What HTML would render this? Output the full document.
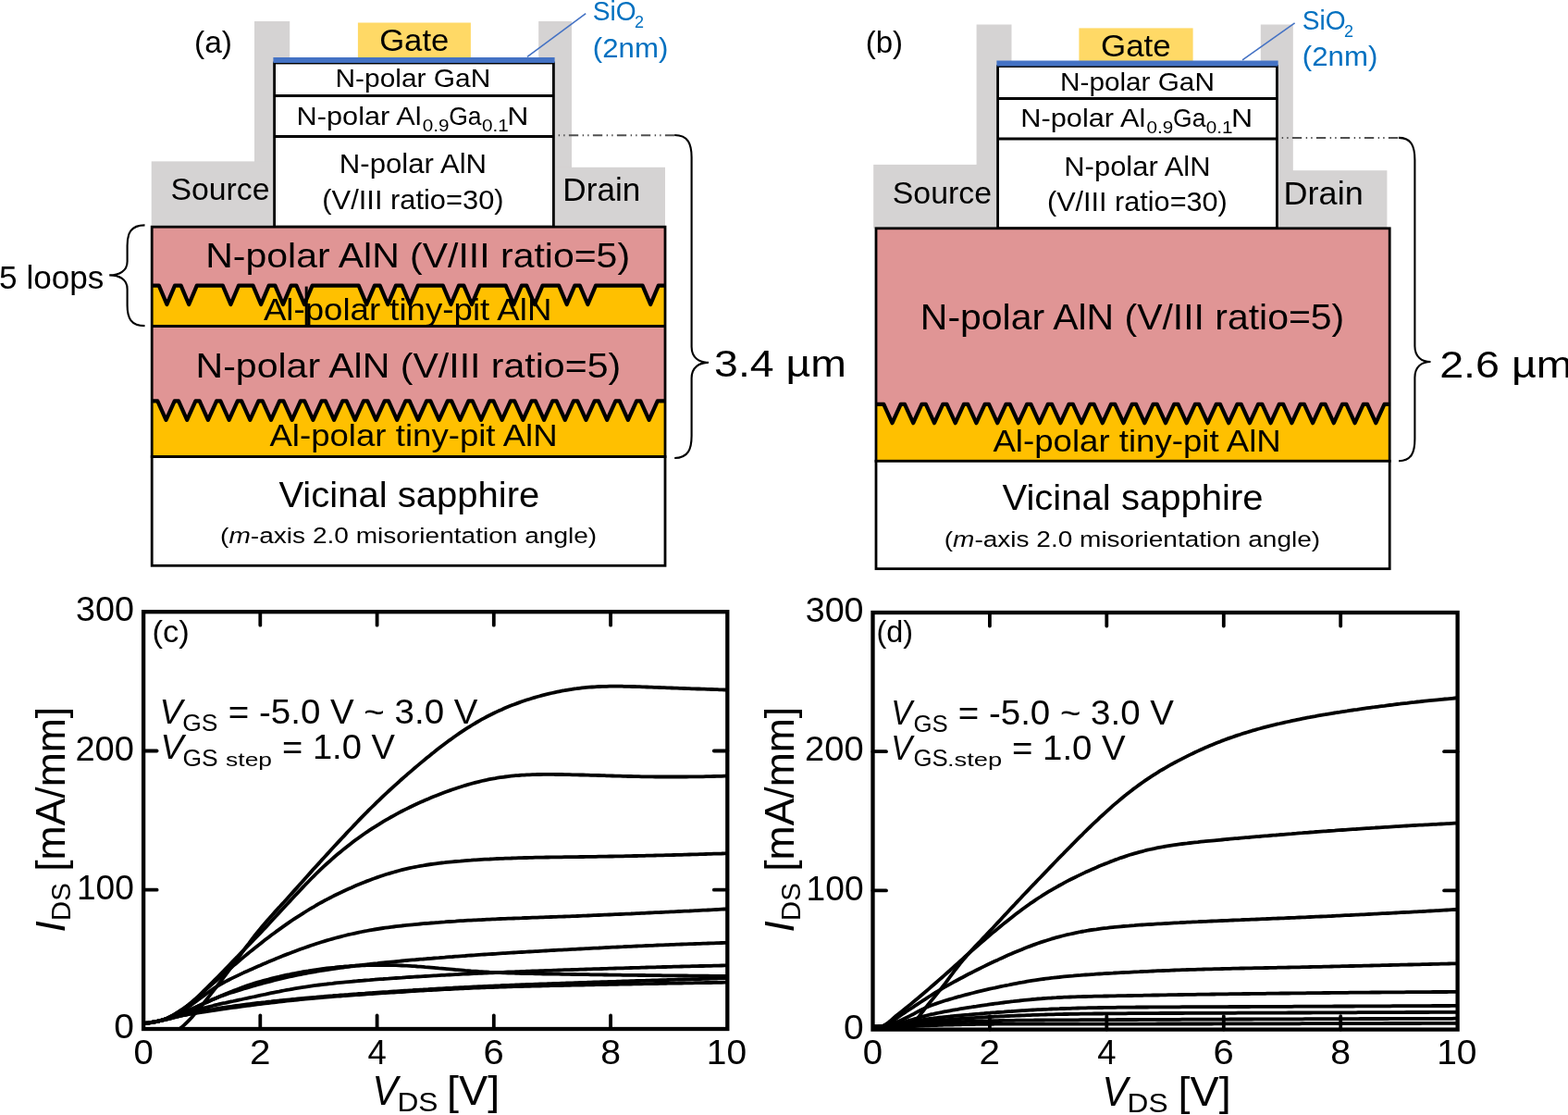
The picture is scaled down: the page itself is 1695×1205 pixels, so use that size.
<!DOCTYPE html>
<html><head><meta charset="utf-8"><title>Figure</title>
<style>html,body{margin:0;padding:0;background:#fff;} svg{display:block;}</style>
</head><body>
<svg width="1695" height="1205" viewBox="0 0 1695 1205">
<g font-family="'Liberation Sans', Arial, sans-serif" fill="#000">
<rect x="0" y="0" width="1695" height="1205" fill="#fff"/>
<rect x="275.0" y="23.0" width="38.2" height="222.2" fill="#D5D3D3"/>
<rect x="163.7" y="174.4" width="132.9" height="70.8" fill="#D5D3D3"/>
<rect x="582.2" y="23.0" width="35.8" height="222.2" fill="#D5D3D3"/>
<rect x="598.4" y="180.8" width="120.6" height="64.4" fill="#D5D3D3"/>
<rect x="386.9" y="24.5" width="122.0" height="38.5" fill="#FFD966"/>
<rect x="296.6" y="68.0" width="301.8" height="177.2" fill="#fff" stroke="#000" stroke-width="2.8"/>
<line x1="296.6" y1="103.4" x2="598.4" y2="103.4" stroke="#000" stroke-width="3" />
<line x1="296.6" y1="147.5" x2="598.4" y2="147.5" stroke="#000" stroke-width="3" />
<rect x="295.4" y="62.0" width="304.2" height="6.0" fill="#4472C4"/>
<line x1="570.0" y1="61.4" x2="633.2" y2="14.7" stroke="#4472C4" stroke-width="1.6" />
<line x1="603.4" y1="146.3" x2="729.2" y2="146.3" stroke="#505050" stroke-width="2" stroke-dasharray="10.3 4.5 1.4 4.1 1.4 4.3" stroke-dashoffset="14.5"/>
<rect x="164.2" y="245.2" width="554.8" height="107.4" fill="#E09595"/>
<polygon points="164.2,308.6 171.8,308.6 180.4,329.0 189.0,308.6 195.6,308.6 204.2,329.0 212.8,308.6 240.8,308.6 249.4,329.0 258.0,308.6 273.5,308.6 282.1,329.0 290.7,308.6 297.4,308.6 306.0,329.0 314.6,308.6 320.4,308.6 329.0,329.0 337.6,308.6 387.7,308.6 396.3,329.0 404.9,308.6 410.7,308.6 419.3,329.0 427.9,308.6 434.6,308.6 443.2,329.0 451.8,308.6 478.8,308.6 487.4,329.0 496.0,308.6 501.4,308.6 510.0,329.0 518.6,308.6 546.7,308.6 555.3,329.0 563.9,308.6 569.3,308.6 577.9,329.0 586.5,308.6 604.1,308.6 612.7,329.0 621.3,308.6 626.8,308.6 635.4,329.0 644.0,308.6 694.6,308.6 703.2,329.0 711.8,308.6 719.0,308.6 719.0,352.6 164.2,352.6" fill="#FFC000"/>
<polyline points="164.2,308.6 171.8,308.6 180.4,329.0 189.0,308.6 195.6,308.6 204.2,329.0 212.8,308.6 240.8,308.6 249.4,329.0 258.0,308.6 273.5,308.6 282.1,329.0 290.7,308.6 297.4,308.6 306.0,329.0 314.6,308.6 320.4,308.6 329.0,329.0 337.6,308.6 387.7,308.6 396.3,329.0 404.9,308.6 410.7,308.6 419.3,329.0 427.9,308.6 434.6,308.6 443.2,329.0 451.8,308.6 478.8,308.6 487.4,329.0 496.0,308.6 501.4,308.6 510.0,329.0 518.6,308.6 546.7,308.6 555.3,329.0 563.9,308.6 569.3,308.6 577.9,329.0 586.5,308.6 604.1,308.6 612.7,329.0 621.3,308.6 626.8,308.6 635.4,329.0 644.0,308.6 694.6,308.6 703.2,329.0 711.8,308.6 719.0,308.6" fill="none" stroke="#000" stroke-width="4.2" stroke-linejoin="round"/>
<line x1="331.2" y1="309.6" x2="331.2" y2="352.6" stroke="#000" stroke-width="3" />
<rect x="164.2" y="352.6" width="554.8" height="141.0" fill="#E09595"/>
<polygon points="164.2,433.3 170.3,433.3 179.5,453.8 188.7,433.3 193.0,433.3 202.2,453.8 211.4,433.3 215.7,433.3 224.9,453.8 234.1,433.3 238.4,433.3 247.6,453.8 256.8,433.3 261.1,433.3 270.3,453.8 279.5,433.3 283.8,433.3 293.0,453.8 302.2,433.3 306.5,433.3 315.7,453.8 324.9,433.3 329.2,433.3 338.4,453.8 347.6,433.3 351.9,433.3 361.1,453.8 370.3,433.3 374.6,433.3 383.8,453.8 393.0,433.3 397.3,433.3 406.5,453.8 415.7,433.3 420.0,433.3 429.2,453.8 438.4,433.3 442.7,433.3 451.9,453.8 461.1,433.3 465.4,433.3 474.6,453.8 483.8,433.3 488.1,433.3 497.3,453.8 506.5,433.3 510.8,433.3 520.0,453.8 529.2,433.3 533.5,433.3 542.7,453.8 551.9,433.3 556.2,433.3 565.4,453.8 574.6,433.3 578.9,433.3 588.1,453.8 597.3,433.3 601.6,433.3 610.8,453.8 620.0,433.3 624.3,433.3 633.5,453.8 642.7,433.3 647.0,433.3 656.2,453.8 665.4,433.3 669.7,433.3 678.9,453.8 688.1,433.3 692.4,433.3 701.6,453.8 710.8,433.3 719.0,433.3 719.0,493.6 164.2,493.6" fill="#FFC000"/>
<polyline points="164.2,433.3 170.3,433.3 179.5,453.8 188.7,433.3 193.0,433.3 202.2,453.8 211.4,433.3 215.7,433.3 224.9,453.8 234.1,433.3 238.4,433.3 247.6,453.8 256.8,433.3 261.1,433.3 270.3,453.8 279.5,433.3 283.8,433.3 293.0,453.8 302.2,433.3 306.5,433.3 315.7,453.8 324.9,433.3 329.2,433.3 338.4,453.8 347.6,433.3 351.9,433.3 361.1,453.8 370.3,433.3 374.6,433.3 383.8,453.8 393.0,433.3 397.3,433.3 406.5,453.8 415.7,433.3 420.0,433.3 429.2,453.8 438.4,433.3 442.7,433.3 451.9,453.8 461.1,433.3 465.4,433.3 474.6,453.8 483.8,433.3 488.1,433.3 497.3,453.8 506.5,433.3 510.8,433.3 520.0,453.8 529.2,433.3 533.5,433.3 542.7,453.8 551.9,433.3 556.2,433.3 565.4,453.8 574.6,433.3 578.9,433.3 588.1,453.8 597.3,433.3 601.6,433.3 610.8,453.8 620.0,433.3 624.3,433.3 633.5,453.8 642.7,433.3 647.0,433.3 656.2,453.8 665.4,433.3 669.7,433.3 678.9,453.8 688.1,433.3 692.4,433.3 701.6,453.8 710.8,433.3 719.0,433.3" fill="none" stroke="#000" stroke-width="4.2" stroke-linejoin="round"/>
<line x1="164.2" y1="352.6" x2="719.0" y2="352.6" stroke="#000" stroke-width="3" />
<rect x="164.2" y="245.2" width="554.8" height="248.4" fill="none" stroke="#000" stroke-width="2.8"/>
<rect x="164.2" y="493.6" width="554.8" height="117.7" fill="#fff" stroke="#000" stroke-width="2.8"/>
<rect x="1055.6" y="26.5" width="37.9" height="220.3" fill="#D5D3D3"/>
<rect x="944.2" y="177.9" width="134.4" height="68.9" fill="#D5D3D3"/>
<rect x="1362.8" y="26.5" width="35.0" height="220.3" fill="#D5D3D3"/>
<rect x="1380.4" y="184.2" width="119.0" height="62.6" fill="#D5D3D3"/>
<rect x="1166.4" y="30.4" width="123.2" height="35.6" fill="#FFD966"/>
<rect x="1078.6" y="71.5" width="301.8" height="175.3" fill="#fff" stroke="#000" stroke-width="2.8"/>
<line x1="1078.6" y1="106.6" x2="1380.4" y2="106.6" stroke="#000" stroke-width="3" />
<line x1="1078.6" y1="150.0" x2="1380.4" y2="150.0" stroke="#000" stroke-width="3" />
<rect x="1077.4" y="65.5" width="304.2" height="6.0" fill="#4472C4"/>
<line x1="1343.0" y1="64.9" x2="1399.6" y2="24.8" stroke="#4472C4" stroke-width="1.6" />
<line x1="1385.4" y1="148.9" x2="1512.0" y2="148.9" stroke="#505050" stroke-width="2" stroke-dasharray="10.3 4.5 1.4 4.1 1.4 4.3" stroke-dashoffset="14.5"/>
<rect x="947.0" y="246.8" width="555.2" height="251.5" fill="#E09595"/>
<polygon points="947.0,436.8 955.3,436.8 964.5,457.2 973.7,436.8 978.0,436.8 987.2,457.2 996.4,436.8 1000.8,436.8 1010.0,457.2 1019.2,436.8 1023.5,436.8 1032.7,457.2 1041.9,436.8 1046.2,436.8 1055.4,457.2 1064.6,436.8 1069.0,436.8 1078.2,457.2 1087.4,436.8 1091.7,436.8 1100.9,457.2 1110.1,436.8 1114.4,436.8 1123.6,457.2 1132.8,436.8 1137.1,436.8 1146.3,457.2 1155.5,436.8 1159.9,436.8 1169.1,457.2 1178.3,436.8 1182.6,436.8 1191.8,457.2 1201.0,436.8 1205.3,436.8 1214.5,457.2 1223.7,436.8 1228.1,436.8 1237.3,457.2 1246.5,436.8 1250.8,436.8 1260.0,457.2 1269.2,436.8 1273.5,436.8 1282.7,457.2 1291.9,436.8 1296.2,436.8 1305.5,457.2 1314.7,436.8 1319.0,436.8 1328.2,457.2 1337.4,436.8 1341.7,436.8 1350.9,457.2 1360.1,436.8 1364.4,436.8 1373.6,457.2 1382.8,436.8 1387.2,436.8 1396.4,457.2 1405.6,436.8 1409.9,436.8 1419.1,457.2 1428.3,436.8 1432.6,436.8 1441.8,457.2 1451.0,436.8 1455.4,436.8 1464.6,457.2 1473.8,436.8 1478.1,436.8 1487.3,457.2 1496.5,436.8 1502.2,436.8 1502.2,498.3 947.0,498.3" fill="#FFC000"/>
<polyline points="947.0,436.8 955.3,436.8 964.5,457.2 973.7,436.8 978.0,436.8 987.2,457.2 996.4,436.8 1000.8,436.8 1010.0,457.2 1019.2,436.8 1023.5,436.8 1032.7,457.2 1041.9,436.8 1046.2,436.8 1055.4,457.2 1064.6,436.8 1069.0,436.8 1078.2,457.2 1087.4,436.8 1091.7,436.8 1100.9,457.2 1110.1,436.8 1114.4,436.8 1123.6,457.2 1132.8,436.8 1137.1,436.8 1146.3,457.2 1155.5,436.8 1159.9,436.8 1169.1,457.2 1178.3,436.8 1182.6,436.8 1191.8,457.2 1201.0,436.8 1205.3,436.8 1214.5,457.2 1223.7,436.8 1228.1,436.8 1237.3,457.2 1246.5,436.8 1250.8,436.8 1260.0,457.2 1269.2,436.8 1273.5,436.8 1282.7,457.2 1291.9,436.8 1296.2,436.8 1305.5,457.2 1314.7,436.8 1319.0,436.8 1328.2,457.2 1337.4,436.8 1341.7,436.8 1350.9,457.2 1360.1,436.8 1364.4,436.8 1373.6,457.2 1382.8,436.8 1387.2,436.8 1396.4,457.2 1405.6,436.8 1409.9,436.8 1419.1,457.2 1428.3,436.8 1432.6,436.8 1441.8,457.2 1451.0,436.8 1455.4,436.8 1464.6,457.2 1473.8,436.8 1478.1,436.8 1487.3,457.2 1496.5,436.8 1502.2,436.8" fill="none" stroke="#000" stroke-width="4.2" stroke-linejoin="round"/>
<rect x="947.0" y="246.8" width="555.2" height="251.5" fill="none" stroke="#000" stroke-width="2.8"/>
<rect x="947.0" y="498.3" width="555.2" height="116.4" fill="#fff" stroke="#000" stroke-width="2.8"/>
<path d="M 156.5 243.4 C 141.38 243.4, 137.6 252.20000000000002, 137.6 265.4 L 137.6 282.4 C 137.6 292.9, 128.87 297.4, 118.2 297.4 C 128.87 297.4, 137.6 301.9, 137.6 312.4 L 137.6 330.1 C 137.6 343.3, 141.38 352.1, 156.5 352.1" fill="none" stroke="#000" stroke-width="2.1"/>
<path d="M 729.2 146 C 743.9200000000001 146, 747.6 155.6, 747.6 170 L 747.6 374.8 C 747.6 386.7, 755.88 391.8, 766 391.8 C 755.88 391.8, 747.6 396.90000000000003, 747.6 408.8 L 747.6 471 C 747.6 485.4, 743.9200000000001 495, 729.2 495" fill="none" stroke="#000" stroke-width="2.1"/>
<path d="M 1512 148.9 C 1525.92 148.9, 1529.4 158.5, 1529.4 172.9 L 1529.4 374 C 1529.4 385.9, 1537.095 391, 1546.5 391 C 1537.095 391, 1529.4 396.1, 1529.4 408 L 1529.4 474.2 C 1529.4 488.59999999999997, 1525.92 498.2, 1512 498.2" fill="none" stroke="#000" stroke-width="2.1"/>
<text x="209.99" y="57.30" font-size="33.5" textLength="40.95" lengthAdjust="spacingAndGlyphs">(a)</text>
<text x="935.72" y="57.30" font-size="33.5" textLength="40.40" lengthAdjust="spacingAndGlyphs">(b)</text>
<text x="410.17" y="55.40" font-size="33.8" textLength="75.16" lengthAdjust="spacingAndGlyphs">Gate</text>
<text x="1190.05" y="60.60" font-size="33.8" textLength="75.68" lengthAdjust="spacingAndGlyphs">Gate</text>
<text x="362.51" y="94.40" font-size="27.5" textLength="167.80" lengthAdjust="spacingAndGlyphs">N-polar GaN</text>
<text x="1146.02" y="98.20" font-size="27.5" textLength="166.87" lengthAdjust="spacingAndGlyphs">N-polar GaN</text>
<text x="320.57" y="135.10" font-size="28" textLength="134.91" lengthAdjust="spacingAndGlyphs">N-polar Al</text>
<text x="456.78" y="141.80" font-size="18.5" textLength="28.78" lengthAdjust="spacingAndGlyphs">0.9</text>
<text x="485.28" y="135.10" font-size="28" textLength="35.32" lengthAdjust="spacingAndGlyphs">Ga</text>
<text x="520.98" y="141.80" font-size="18.5" textLength="28.78" lengthAdjust="spacingAndGlyphs">0.1</text>
<text x="548.24" y="135.10" font-size="28" textLength="23.13" lengthAdjust="spacingAndGlyphs">N</text>
<text x="1103.37" y="137.30" font-size="28" textLength="134.91" lengthAdjust="spacingAndGlyphs">N-polar Al</text>
<text x="1239.58" y="144.00" font-size="18.5" textLength="28.78" lengthAdjust="spacingAndGlyphs">0.9</text>
<text x="1268.08" y="137.30" font-size="28" textLength="35.32" lengthAdjust="spacingAndGlyphs">Ga</text>
<text x="1303.78" y="144.00" font-size="18.5" textLength="28.78" lengthAdjust="spacingAndGlyphs">0.1</text>
<text x="1331.04" y="137.30" font-size="28" textLength="23.13" lengthAdjust="spacingAndGlyphs">N</text>
<text x="366.83" y="186.90" font-size="28.9" textLength="159.24" lengthAdjust="spacingAndGlyphs">N-polar AlN</text>
<text x="1150.25" y="189.60" font-size="28.9" textLength="158.31" lengthAdjust="spacingAndGlyphs">N-polar AlN</text>
<text x="348.35" y="226.40" font-size="29" textLength="196.24" lengthAdjust="spacingAndGlyphs">(V/III ratio=30)</text>
<text x="1131.96" y="227.80" font-size="29" textLength="194.81" lengthAdjust="spacingAndGlyphs">(V/III ratio=30)</text>
<text x="184.38" y="215.90" font-size="34" textLength="107.22" lengthAdjust="spacingAndGlyphs">Source</text>
<text x="964.78" y="219.50" font-size="34" textLength="107.22" lengthAdjust="spacingAndGlyphs">Source</text>
<text x="608.39" y="217.10" font-size="34.3" textLength="84.07" lengthAdjust="spacingAndGlyphs">Drain</text>
<text x="1387.62" y="220.50" font-size="34.3" textLength="86.08" lengthAdjust="spacingAndGlyphs">Drain</text>
<text x="222.24" y="288.70" font-size="37.8" textLength="458.83" lengthAdjust="spacingAndGlyphs">N-polar AlN (V/III ratio=5)</text>
<text x="211.53" y="407.50" font-size="37.8" textLength="459.64" lengthAdjust="spacingAndGlyphs">N-polar AlN (V/III ratio=5)</text>
<text x="284.90" y="346.30" font-size="34" textLength="311.51" lengthAdjust="spacingAndGlyphs">Al-polar tiny-pit AlN</text>
<text x="291.40" y="481.70" font-size="33.5" textLength="311.31" lengthAdjust="spacingAndGlyphs">Al-polar tiny-pit AlN</text>
<text x="994.84" y="356.00" font-size="38.3" textLength="458.42" lengthAdjust="spacingAndGlyphs">N-polar AlN (V/III ratio=5)</text>
<text x="1073.40" y="488.10" font-size="33.5" textLength="311.41" lengthAdjust="spacingAndGlyphs">Al-polar tiny-pit AlN</text>
<text x="301.40" y="547.90" font-size="39" textLength="281.85" lengthAdjust="spacingAndGlyphs">Vicinal sapphire</text>
<text x="1083.40" y="551.20" font-size="39" textLength="282.25" lengthAdjust="spacingAndGlyphs">Vicinal sapphire</text>
<text x="238.12" y="587.20" font-size="24.3" textLength="407.11" lengthAdjust="spacingAndGlyphs">(<tspan font-style="italic">m</tspan>-axis 2.0 misorientation angle)</text>
<text x="1020.72" y="591.20" font-size="24.3" textLength="406.41" lengthAdjust="spacingAndGlyphs">(<tspan font-style="italic">m</tspan>-axis 2.0 misorientation angle)</text>
<text x="-0.90" y="311.60" font-size="34.4" textLength="113.23" lengthAdjust="spacingAndGlyphs">5 loops</text>
<text x="772.08" y="406.50" font-size="40.8" textLength="142.85" lengthAdjust="spacingAndGlyphs">3.4 µm</text>
<text x="1556.17" y="408.00" font-size="40.8" textLength="143.57" lengthAdjust="spacingAndGlyphs">2.6 µm</text>
<text x="640.73" y="22.40" font-size="28.8" textLength="46.91" lengthAdjust="spacingAndGlyphs" fill="#0070C0">SiO</text>
<text x="686.00" y="30.10" font-size="19" textLength="10.03" lengthAdjust="spacingAndGlyphs" fill="#0070C0">2</text>
<text x="640.83" y="62.00" font-size="28.8" textLength="81.48" lengthAdjust="spacingAndGlyphs" fill="#0070C0">(2nm)</text>
<text x="1407.73" y="31.90" font-size="28.8" textLength="46.91" lengthAdjust="spacingAndGlyphs" fill="#0070C0">SiO</text>
<text x="1453.00" y="39.60" font-size="19" textLength="10.03" lengthAdjust="spacingAndGlyphs" fill="#0070C0">2</text>
<text x="1407.83" y="71.40" font-size="28.8" textLength="81.48" lengthAdjust="spacingAndGlyphs" fill="#0070C0">(2nm)</text>
<defs><clipPath id="clipc"><rect x="155.1" y="661.2" width="631.2" height="450.8"/></clipPath></defs>
<g clip-path="url(#clipc)">
<polyline points="194.2,1112.0 196.2,1110.3 199.2,1107.6 202.1,1104.8 204.1,1102.8 207.1,1099.7 210.0,1096.3 213.0,1092.8 215.0,1090.4 218.0,1086.8 220.9,1083.1 223.9,1079.4 225.9,1076.9 228.8,1073.1 231.8,1069.3 234.8,1065.5 236.7,1063.0 239.7,1059.1 242.7,1055.2 244.6,1052.6 247.6,1048.7 250.6,1044.7 253.5,1040.7 255.5,1038.0 258.5,1033.9 261.4,1029.8 264.4,1025.7 266.4,1023.0 269.4,1019.1 272.3,1015.1 275.3,1011.3 277.3,1008.8 280.2,1005.1 283.2,1001.5 285.2,999.2 288.1,995.8 291.1,992.4 294.1,989.1 296.0,986.9 299.0,983.6 302.0,980.4 304.9,977.1 306.9,975.0 309.9,971.7 312.8,968.4 315.8,965.1 317.8,962.9 320.8,959.6 323.7,956.3 326.7,952.9 328.7,950.7 331.6,947.4 334.6,944.1 336.6,941.9 339.5,938.6 342.5,935.4 345.5,932.1 347.4,929.9 350.4,926.7 353.4,923.4 356.3,920.2 358.3,918.0 361.3,914.8 364.2,911.6 367.2,908.4 369.2,906.2 372.2,903.1 375.1,899.9 377.1,897.8 380.1,894.7 383.0,891.6 386.0,888.5 388.0,886.4 390.9,883.4 393.9,880.4 396.9,877.4 398.8,875.4 401.8,872.5 404.8,869.6 407.7,866.7 409.7,864.8 412.7,861.9 415.6,859.1 418.6,856.4 420.6,854.5 423.5,851.8 426.5,849.1 428.5,847.3 431.5,844.7 434.4,842.0 437.4,839.4 439.4,837.7 442.3,835.1 445.3,832.6 448.3,830.0 450.2,828.4 453.2,825.9 456.2,823.4 459.1,821.0 461.1,819.3 464.1,816.9 467.0,814.5 469.0,813.0 472.0,810.6 474.9,808.3 477.9,806.0 479.9,804.5 482.9,802.3 485.8,800.1 488.8,798.0 490.8,796.5 493.7,794.5 496.7,792.4 499.7,790.4 501.6,789.1 504.6,787.2 507.6,785.3 510.5,783.5 512.5,782.3 515.5,780.5 518.4,778.8 520.4,777.7 523.4,776.1 526.3,774.5 529.3,773.0 531.3,772.0 534.3,770.5 537.2,769.1 540.2,767.7 542.2,766.9 545.1,765.6 548.1,764.3 551.1,763.1 553.0,762.3 556.0,761.2 559.0,760.1 560.9,759.4 563.9,758.3 566.9,757.3 569.8,756.3 571.8,755.7 574.8,754.8 577.7,753.9 580.7,753.0 582.7,752.5 585.7,751.7 588.6,750.9 591.6,750.2 593.6,749.7 596.5,749.0 599.5,748.3 602.5,747.7 604.4,747.3 607.4,746.7 610.4,746.2 612.3,745.8 615.3,745.3 618.3,744.9 621.2,744.4 623.2,744.2 626.2,743.8 629.1,743.4 632.1,743.1 634.1,742.9 637.0,742.7 640.0,742.5 643.0,742.3 645.0,742.2 647.9,742.0 650.9,741.9 652.9,741.8 655.8,741.8 658.8,741.7 661.8,741.7 663.7,741.7 666.7,741.7 669.7,741.7 672.6,741.7 674.6,741.8 677.6,741.8 680.5,741.9 683.5,742.0 685.5,742.0 688.4,742.1 691.4,742.2 694.4,742.3 696.4,742.4 699.3,742.5 702.3,742.6 704.3,742.7 707.2,742.8 710.2,742.9 713.2,743.0 715.1,743.1 718.1,743.2 721.1,743.3 724.0,743.4 726.0,743.5 729.0,743.6 731.9,743.7 734.9,743.8 736.9,743.9 739.8,744.0 742.8,744.1 744.8,744.1 747.8,744.3 750.7,744.4 753.7,744.5 755.7,744.5 758.6,744.6 761.6,744.7 764.6,744.8 766.5,744.9 769.5,745.0 772.5,745.1 775.4,745.2 777.4,745.3 780.4,745.4 783.3,745.5 786.3,745.6" fill="none" stroke="#000" stroke-width="3.8" stroke-linejoin="round" stroke-linecap="round"/>
<polyline points="155.1,1106.0 157.2,1105.9 160.4,1105.6 163.5,1105.2 165.6,1104.8 168.8,1104.1 172.0,1103.3 175.1,1102.4 177.2,1101.7 180.4,1100.5 183.6,1099.0 186.7,1097.3 188.8,1096.1 192.0,1094.2 195.1,1092.1 198.3,1090.0 200.4,1088.5 203.6,1086.1 206.7,1083.6 208.8,1081.7 212.0,1078.8 215.2,1075.8 218.3,1072.8 220.4,1070.7 223.6,1067.6 226.8,1064.4 229.9,1061.3 232.0,1059.2 235.2,1056.0 238.3,1052.8 241.5,1049.6 243.6,1047.4 246.8,1044.1 249.9,1040.8 252.0,1038.6 255.2,1035.4 258.4,1032.1 261.5,1028.8 263.6,1026.7 266.8,1023.4 270.0,1020.2 273.1,1016.9 275.2,1014.7 278.4,1011.4 281.6,1008.1 284.7,1004.8 286.8,1002.6 290.0,999.2 293.1,995.8 296.3,992.3 298.4,990.0 301.6,986.6 304.7,983.2 306.8,980.9 310.0,977.5 313.2,974.1 316.3,970.7 318.4,968.4 321.6,965.1 324.8,961.7 327.9,958.4 330.0,956.2 333.2,953.0 336.3,949.8 339.5,946.6 341.6,944.5 344.8,941.4 347.9,938.4 350.0,936.4 353.2,933.5 356.4,930.7 359.5,927.9 361.6,926.0 364.8,923.3 368.0,920.7 371.1,918.1 373.2,916.4 376.4,913.9 379.6,911.5 382.7,909.1 384.8,907.5 388.0,905.2 391.1,903.0 394.3,900.8 396.4,899.3 399.6,897.2 402.7,895.1 404.8,893.8 408.0,891.8 411.2,889.8 414.3,887.9 416.4,886.7 419.6,884.8 422.8,883.0 425.9,881.3 428.0,880.1 431.2,878.4 434.3,876.8 437.5,875.1 439.6,874.1 442.8,872.5 445.9,871.0 448.0,870.0 451.2,868.5 454.4,867.1 457.5,865.7 459.6,864.8 462.8,863.4 466.0,862.1 469.1,860.8 471.2,860.0 474.4,858.7 477.5,857.5 480.7,856.3 482.8,855.5 486.0,854.4 489.1,853.3 492.3,852.2 494.4,851.5 497.6,850.5 500.7,849.5 502.8,848.8 506.0,847.9 509.2,847.0 512.3,846.2 514.4,845.6 517.6,844.8 520.8,844.0 523.9,843.3 526.0,842.9 529.2,842.2 532.3,841.6 535.5,841.1 537.6,840.7 540.8,840.2 543.9,839.8 546.0,839.5 549.2,839.1 552.4,838.7 555.5,838.4 557.6,838.2 560.8,838.0 564.0,837.7 567.1,837.6 569.2,837.4 572.4,837.3 575.5,837.2 578.7,837.1 580.8,837.0 584.0,837.0 587.1,836.9 590.3,836.9 592.4,836.9 595.6,836.9 598.7,836.9 600.8,837.0 604.0,837.0 607.2,837.0 610.3,837.1 612.4,837.1 615.6,837.2 618.8,837.3 621.9,837.3 624.0,837.4 627.2,837.5 630.3,837.5 633.5,837.6 635.6,837.7 638.8,837.8 641.9,837.9 644.0,837.9 647.2,838.0 650.4,838.1 653.5,838.2 655.6,838.3 658.8,838.4 662.0,838.5 665.1,838.6 667.2,838.7 670.4,838.7 673.5,838.8 676.7,838.9 678.8,839.0 682.0,839.0 685.1,839.1 688.3,839.2 690.4,839.2 693.6,839.3 696.7,839.3 698.8,839.4 702.0,839.4 705.2,839.4 708.3,839.5 710.4,839.5 713.6,839.5 716.8,839.5 719.9,839.5 722.0,839.5 725.2,839.5 728.3,839.5 731.5,839.5 733.6,839.5 736.8,839.5 739.9,839.5 742.0,839.5 745.2,839.4 748.4,839.4 751.5,839.4 753.6,839.3 756.8,839.3 760.0,839.3 763.1,839.2 765.2,839.2 768.4,839.1 771.5,839.0 774.7,838.9 776.8,838.9 780.0,838.8 783.1,838.6 786.3,838.5" fill="none" stroke="#000" stroke-width="3.8" stroke-linejoin="round" stroke-linecap="round"/>
<polyline points="155.1,1106.0 157.2,1105.9 160.4,1105.6 163.5,1105.2 165.6,1104.8 168.8,1104.1 172.0,1103.3 175.1,1102.4 177.2,1101.7 180.4,1100.5 183.6,1099.0 186.7,1097.3 188.8,1096.1 192.0,1094.1 195.1,1092.1 198.3,1090.0 200.4,1088.5 203.6,1086.2 206.7,1083.7 208.8,1081.9 212.0,1079.2 215.2,1076.3 218.3,1073.5 220.4,1071.6 223.6,1068.7 226.8,1065.9 229.9,1063.1 232.0,1061.3 235.2,1058.5 238.3,1055.8 241.5,1053.0 243.6,1051.2 246.8,1048.5 249.9,1045.7 252.0,1043.9 255.2,1041.2 258.4,1038.5 261.5,1035.9 263.6,1034.1 266.8,1031.5 270.0,1028.9 273.1,1026.4 275.2,1024.7 278.4,1022.2 281.6,1019.7 284.7,1017.2 286.8,1015.6 290.0,1013.2 293.1,1010.8 296.3,1008.5 298.4,1006.9 301.6,1004.6 304.7,1002.4 306.8,1000.9 310.0,998.6 313.2,996.4 316.3,994.3 318.4,992.9 321.6,990.8 324.8,988.8 327.9,986.8 330.0,985.5 333.2,983.5 336.3,981.6 339.5,979.8 341.6,978.5 344.8,976.7 347.9,975.0 350.0,973.8 353.2,972.1 356.4,970.5 359.5,968.9 361.6,967.8 364.8,966.2 368.0,964.7 371.1,963.2 373.2,962.2 376.4,960.8 379.6,959.4 382.7,958.0 384.8,957.1 388.0,955.8 391.1,954.5 394.3,953.2 396.4,952.4 399.6,951.2 402.7,950.0 404.8,949.3 408.0,948.1 411.2,947.0 414.3,946.0 416.4,945.3 419.6,944.3 422.8,943.4 425.9,942.5 428.0,941.9 431.2,941.0 434.3,940.2 437.5,939.4 439.6,938.9 442.8,938.2 445.9,937.5 448.0,937.1 451.2,936.5 454.4,935.9 457.5,935.4 459.6,935.0 462.8,934.5 466.0,934.0 469.1,933.6 471.2,933.3 474.4,932.9 477.5,932.5 480.7,932.2 482.8,931.9 486.0,931.6 489.1,931.3 492.3,931.0 494.4,930.8 497.6,930.6 500.7,930.3 502.8,930.1 506.0,929.9 509.2,929.7 512.3,929.4 514.4,929.3 517.6,929.1 520.8,928.9 523.9,928.7 526.0,928.6 529.2,928.5 532.3,928.3 535.5,928.1 537.6,928.0 540.8,927.9 543.9,927.8 546.0,927.7 549.2,927.6 552.4,927.5 555.5,927.3 557.6,927.3 560.8,927.2 564.0,927.1 567.1,927.0 569.2,927.0 572.4,926.9 575.5,926.8 578.7,926.7 580.8,926.7 584.0,926.6 587.1,926.6 590.3,926.5 592.4,926.5 595.6,926.4 598.7,926.4 600.8,926.4 604.0,926.3 607.2,926.3 610.3,926.2 612.4,926.2 615.6,926.2 618.8,926.1 621.9,926.1 624.0,926.1 627.2,926.0 630.3,926.0 633.5,925.9 635.6,925.9 638.8,925.9 641.9,925.8 644.0,925.8 647.2,925.7 650.4,925.7 653.5,925.6 655.6,925.6 658.8,925.5 662.0,925.5 665.1,925.4 667.2,925.4 670.4,925.3 673.5,925.3 676.7,925.2 678.8,925.2 682.0,925.1 685.1,925.0 688.3,925.0 690.4,924.9 693.6,924.8 696.7,924.8 698.8,924.7 702.0,924.7 705.2,924.6 708.3,924.5 710.4,924.4 713.6,924.4 716.8,924.3 719.9,924.2 722.0,924.2 725.2,924.1 728.3,924.0 731.5,923.9 733.6,923.8 736.8,923.8 739.9,923.7 742.0,923.6 745.2,923.5 748.4,923.4 751.5,923.3 753.6,923.3 756.8,923.2 760.0,923.1 763.1,923.0 765.2,922.9 768.4,922.8 771.5,922.7 774.7,922.6 776.8,922.6 780.0,922.5 783.1,922.3 786.3,922.2" fill="none" stroke="#000" stroke-width="3.8" stroke-linejoin="round" stroke-linecap="round"/>
<polyline points="155.1,1106.0 157.2,1105.9 160.4,1105.6 163.5,1105.1 165.6,1104.7 168.8,1104.1 172.0,1103.3 175.1,1102.5 177.2,1101.8 180.4,1100.7 183.6,1099.3 186.7,1097.8 188.8,1096.7 192.0,1095.0 195.1,1093.3 198.3,1091.4 200.4,1090.2 203.6,1088.2 206.7,1086.1 208.8,1084.5 212.0,1082.2 215.2,1079.8 218.3,1077.5 220.4,1075.9 223.6,1073.5 226.8,1071.3 229.9,1069.1 232.0,1067.7 235.2,1065.7 238.3,1063.8 241.5,1062.0 243.6,1060.9 246.8,1059.2 249.9,1057.6 252.0,1056.6 255.2,1055.1 258.4,1053.6 261.5,1052.1 263.6,1051.1 266.8,1049.7 270.0,1048.3 273.1,1046.9 275.2,1045.9 278.4,1044.5 281.6,1043.2 284.7,1041.8 286.8,1040.9 290.0,1039.6 293.1,1038.2 296.3,1036.9 298.4,1036.0 301.6,1034.8 304.7,1033.5 306.8,1032.6 310.0,1031.4 313.2,1030.2 316.3,1029.0 318.4,1028.2 321.6,1027.0 324.8,1025.8 327.9,1024.7 330.0,1024.0 333.2,1022.9 336.3,1021.8 339.5,1020.7 341.6,1020.0 344.8,1019.0 347.9,1018.0 350.0,1017.4 353.2,1016.4 356.4,1015.5 359.5,1014.6 361.6,1014.0 364.8,1013.2 368.0,1012.3 371.1,1011.5 373.2,1011.0 376.4,1010.2 379.6,1009.5 382.7,1008.8 384.8,1008.3 388.0,1007.6 391.1,1007.0 394.3,1006.4 396.4,1006.0 399.6,1005.4 402.7,1004.8 404.8,1004.5 408.0,1004.0 411.2,1003.5 414.3,1003.0 416.4,1002.7 419.6,1002.3 422.8,1001.9 425.9,1001.5 428.0,1001.2 431.2,1000.8 434.3,1000.5 437.5,1000.1 439.6,999.9 442.8,999.6 445.9,999.3 448.0,999.1 451.2,998.8 454.4,998.5 457.5,998.2 459.6,998.0 462.8,997.8 466.0,997.5 469.1,997.3 471.2,997.1 474.4,996.9 477.5,996.6 480.7,996.4 482.8,996.2 486.0,996.0 489.1,995.8 492.3,995.6 494.4,995.4 497.6,995.2 500.7,995.1 502.8,994.9 506.0,994.7 509.2,994.6 512.3,994.4 514.4,994.3 517.6,994.1 520.8,994.0 523.9,993.8 526.0,993.7 529.2,993.6 532.3,993.4 535.5,993.3 537.6,993.2 540.8,993.0 543.9,992.9 546.0,992.8 549.2,992.7 552.4,992.6 555.5,992.5 557.6,992.4 560.8,992.3 564.0,992.2 567.1,992.0 569.2,992.0 572.4,991.9 575.5,991.7 578.7,991.6 580.8,991.6 584.0,991.4 587.1,991.3 590.3,991.2 592.4,991.1 595.6,991.0 598.7,990.9 600.8,990.8 604.0,990.7 607.2,990.6 610.3,990.5 612.4,990.4 615.6,990.3 618.8,990.2 621.9,990.1 624.0,990.0 627.2,989.8 630.3,989.7 633.5,989.6 635.6,989.5 638.8,989.4 641.9,989.2 644.0,989.2 647.2,989.0 650.4,988.9 653.5,988.7 655.6,988.7 658.8,988.5 662.0,988.4 665.1,988.2 667.2,988.1 670.4,988.0 673.5,987.9 676.7,987.7 678.8,987.6 682.0,987.5 685.1,987.3 688.3,987.2 690.4,987.1 693.6,986.9 696.7,986.8 698.8,986.7 702.0,986.5 705.2,986.4 708.3,986.2 710.4,986.1 713.6,986.0 716.8,985.8 719.9,985.7 722.0,985.6 725.2,985.4 728.3,985.3 731.5,985.1 733.6,985.0 736.8,984.9 739.9,984.7 742.0,984.6 745.2,984.5 748.4,984.3 751.5,984.2 753.6,984.1 756.8,983.9 760.0,983.7 763.1,983.6 765.2,983.5 768.4,983.3 771.5,983.1 774.7,983.0 776.8,982.9 780.0,982.7 783.1,982.5 786.3,982.3" fill="none" stroke="#000" stroke-width="3.8" stroke-linejoin="round" stroke-linecap="round"/>
<polyline points="155.1,1106.0 157.2,1105.8 160.4,1105.4 163.5,1104.9 165.6,1104.6 168.8,1104.0 172.0,1103.3 175.1,1102.6 177.2,1102.0 180.4,1101.1 183.6,1100.1 186.7,1098.9 188.8,1098.1 192.0,1096.9 195.1,1095.6 198.3,1094.3 200.4,1093.5 203.6,1092.1 206.7,1090.7 208.8,1089.8 212.0,1088.3 215.2,1086.8 218.3,1085.3 220.4,1084.4 223.6,1082.9 226.8,1081.5 229.9,1080.1 232.0,1079.3 235.2,1078.0 238.3,1076.8 241.5,1075.6 243.6,1074.9 246.8,1073.8 249.9,1072.8 252.0,1072.1 255.2,1071.1 258.4,1070.1 261.5,1069.1 263.6,1068.5 266.8,1067.6 270.0,1066.6 273.1,1065.7 275.2,1065.1 278.4,1064.2 281.6,1063.4 284.7,1062.5 286.8,1061.9 290.0,1061.1 293.1,1060.3 296.3,1059.5 298.4,1059.0 301.6,1058.2 304.7,1057.5 306.8,1057.0 310.0,1056.2 313.2,1055.5 316.3,1054.8 318.4,1054.4 321.6,1053.7 324.8,1053.1 327.9,1052.5 330.0,1052.1 333.2,1051.5 336.3,1050.9 339.5,1050.3 341.6,1050.0 344.8,1049.4 347.9,1048.9 350.0,1048.6 353.2,1048.1 356.4,1047.6 359.5,1047.1 361.6,1046.8 364.8,1046.4 368.0,1045.9 371.1,1045.5 373.2,1045.2 376.4,1044.8 379.6,1044.4 382.7,1044.0 384.8,1043.7 388.0,1043.3 391.1,1043.0 394.3,1042.6 396.4,1042.3 399.6,1042.0 402.7,1041.6 404.8,1041.4 408.0,1041.1 411.2,1040.7 414.3,1040.4 416.4,1040.2 419.6,1039.9 422.8,1039.6 425.9,1039.3 428.0,1039.1 431.2,1038.8 434.3,1038.5 437.5,1038.2 439.6,1038.0 442.8,1037.7 445.9,1037.4 448.0,1037.3 451.2,1037.0 454.4,1036.7 457.5,1036.5 459.6,1036.3 462.8,1036.0 466.0,1035.8 469.1,1035.5 471.2,1035.3 474.4,1035.1 477.5,1034.8 480.7,1034.6 482.8,1034.4 486.0,1034.2 489.1,1034.0 492.3,1033.7 494.4,1033.6 497.6,1033.3 500.7,1033.1 502.8,1033.0 506.0,1032.7 509.2,1032.5 512.3,1032.3 514.4,1032.1 517.6,1031.9 520.8,1031.7 523.9,1031.5 526.0,1031.4 529.2,1031.2 532.3,1031.0 535.5,1030.8 537.6,1030.6 540.8,1030.4 543.9,1030.2 546.0,1030.1 549.2,1029.9 552.4,1029.7 555.5,1029.5 557.6,1029.4 560.8,1029.2 564.0,1029.0 567.1,1028.8 569.2,1028.7 572.4,1028.5 575.5,1028.4 578.7,1028.2 580.8,1028.1 584.0,1027.9 587.1,1027.7 590.3,1027.5 592.4,1027.4 595.6,1027.2 598.7,1027.0 600.8,1026.9 604.0,1026.7 607.2,1026.6 610.3,1026.4 612.4,1026.3 615.6,1026.1 618.8,1025.9 621.9,1025.8 624.0,1025.7 627.2,1025.5 630.3,1025.3 633.5,1025.2 635.6,1025.1 638.8,1024.9 641.9,1024.7 644.0,1024.6 647.2,1024.5 650.4,1024.3 653.5,1024.1 655.6,1024.0 658.8,1023.9 662.0,1023.7 665.1,1023.6 667.2,1023.5 670.4,1023.3 673.5,1023.2 676.7,1023.0 678.8,1022.9 682.0,1022.8 685.1,1022.6 688.3,1022.5 690.4,1022.4 693.6,1022.3 696.7,1022.1 698.8,1022.0 702.0,1021.9 705.2,1021.8 708.3,1021.6 710.4,1021.5 713.6,1021.4 716.8,1021.3 719.9,1021.1 722.0,1021.1 725.2,1020.9 728.3,1020.8 731.5,1020.7 733.6,1020.6 736.8,1020.5 739.9,1020.4 742.0,1020.3 745.2,1020.2 748.4,1020.1 751.5,1020.0 753.6,1019.9 756.8,1019.8 760.0,1019.7 763.1,1019.6 765.2,1019.5 768.4,1019.4 771.5,1019.3 774.7,1019.2 776.8,1019.1 780.0,1019.0 783.1,1018.9 786.3,1018.8" fill="none" stroke="#000" stroke-width="3.8" stroke-linejoin="round" stroke-linecap="round"/>
<polyline points="155.1,1106.0 157.2,1105.8 160.4,1105.4 163.5,1104.9 165.6,1104.6 168.8,1104.0 172.0,1103.3 175.1,1102.6 177.2,1102.0 180.4,1101.1 183.6,1100.1 186.7,1098.9 188.8,1098.1 192.0,1096.9 195.1,1095.6 198.3,1094.4 200.4,1093.5 203.6,1092.2 206.7,1090.8 208.8,1089.9 212.0,1088.5 215.2,1087.1 218.3,1085.6 220.4,1084.6 223.6,1083.2 226.8,1081.7 229.9,1080.3 232.0,1079.4 235.2,1078.0 238.3,1076.6 241.5,1075.2 243.6,1074.4 246.8,1073.1 249.9,1071.8 252.0,1070.9 255.2,1069.7 258.4,1068.5 261.5,1067.3 263.6,1066.5 266.8,1065.4 270.0,1064.3 273.1,1063.3 275.2,1062.6 278.4,1061.7 281.6,1060.8 284.7,1059.9 286.8,1059.3 290.0,1058.5 293.1,1057.7 296.3,1056.9 298.4,1056.4 301.6,1055.7 304.7,1054.9 306.8,1054.4 310.0,1053.7 313.2,1053.1 316.3,1052.4 318.4,1052.0 321.6,1051.4 324.8,1050.8 327.9,1050.2 330.0,1049.9 333.2,1049.4 336.3,1048.8 339.5,1048.4 341.6,1048.1 344.8,1047.6 347.9,1047.2 350.0,1046.9 353.2,1046.5 356.4,1046.1 359.5,1045.8 361.6,1045.6 364.8,1045.2 368.0,1044.9 371.1,1044.7 373.2,1044.5 376.4,1044.3 379.6,1044.0 382.7,1043.8 384.8,1043.7 388.0,1043.6 391.1,1043.4 394.3,1043.3 396.4,1043.2 399.6,1043.1 402.7,1043.1 404.8,1043.0 408.0,1043.0 411.2,1043.0 414.3,1043.0 416.4,1043.0 419.6,1043.0 422.8,1043.1 425.9,1043.2 428.0,1043.2 431.2,1043.4 434.3,1043.5 437.5,1043.6 439.6,1043.7 442.8,1043.9 445.9,1044.1 448.0,1044.2 451.2,1044.5 454.4,1044.7 457.5,1044.9 459.6,1045.1 462.8,1045.3 466.0,1045.6 469.1,1045.9 471.2,1046.1 474.4,1046.4 477.5,1046.6 480.7,1046.9 482.8,1047.1 486.0,1047.4 489.1,1047.7 492.3,1048.0 494.4,1048.1 497.6,1048.4 500.7,1048.7 502.8,1048.9 506.0,1049.1 509.2,1049.4 512.3,1049.6 514.4,1049.7 517.6,1050.0 520.8,1050.2 523.9,1050.4 526.0,1050.5 529.2,1050.7 532.3,1050.8 535.5,1051.0 537.6,1051.1 540.8,1051.2 543.9,1051.3 546.0,1051.4 549.2,1051.5 552.4,1051.6 555.5,1051.7 557.6,1051.8 560.8,1051.9 564.0,1052.0 567.1,1052.1 569.2,1052.1 572.4,1052.2 575.5,1052.2 578.7,1052.3 580.8,1052.3 584.0,1052.4 587.1,1052.5 590.3,1052.5 592.4,1052.6 595.6,1052.6 598.7,1052.7 600.8,1052.7 604.0,1052.7 607.2,1052.8 610.3,1052.8 612.4,1052.9 615.6,1052.9 618.8,1053.0 621.9,1053.0 624.0,1053.1 627.2,1053.1 630.3,1053.1 633.5,1053.2 635.6,1053.2 638.8,1053.3 641.9,1053.3 644.0,1053.3 647.2,1053.4 650.4,1053.4 653.5,1053.5 655.6,1053.5 658.8,1053.6 662.0,1053.6 665.1,1053.6 667.2,1053.7 670.4,1053.7 673.5,1053.8 676.7,1053.8 678.8,1053.8 682.0,1053.9 685.1,1053.9 688.3,1053.9 690.4,1054.0 693.6,1054.0 696.7,1054.0 698.8,1054.1 702.0,1054.1 705.2,1054.1 708.3,1054.2 710.4,1054.2 713.6,1054.2 716.8,1054.3 719.9,1054.3 722.0,1054.3 725.2,1054.4 728.3,1054.4 731.5,1054.4 733.6,1054.5 736.8,1054.5 739.9,1054.5 742.0,1054.5 745.2,1054.6 748.4,1054.6 751.5,1054.6 753.6,1054.6 756.8,1054.7 760.0,1054.7 763.1,1054.7 765.2,1054.7 768.4,1054.8 771.5,1054.8 774.7,1054.8 776.8,1054.8 780.0,1054.9 783.1,1054.9 786.3,1054.9" fill="none" stroke="#000" stroke-width="3.8" stroke-linejoin="round" stroke-linecap="round"/>
<polyline points="155.1,1106.0 157.2,1105.7 160.4,1105.3 163.5,1104.9 165.6,1104.5 168.8,1104.0 172.0,1103.3 175.1,1102.6 177.2,1102.1 180.4,1101.3 183.6,1100.4 186.7,1099.4 188.8,1098.8 192.0,1097.8 195.1,1096.8 198.3,1095.8 200.4,1095.2 203.6,1094.2 206.7,1093.3 208.8,1092.7 212.0,1091.8 215.2,1090.9 218.3,1090.0 220.4,1089.4 223.6,1088.6 226.8,1087.8 229.9,1087.0 232.0,1086.4 235.2,1085.7 238.3,1084.9 241.5,1084.2 243.6,1083.8 246.8,1083.1 249.9,1082.4 252.0,1082.0 255.2,1081.3 258.4,1080.6 261.5,1080.0 263.6,1079.5 266.8,1078.9 270.0,1078.2 273.1,1077.5 275.2,1077.1 278.4,1076.4 281.6,1075.7 284.7,1075.0 286.8,1074.6 290.0,1073.9 293.1,1073.2 296.3,1072.6 298.4,1072.2 301.6,1071.6 304.7,1070.9 306.8,1070.5 310.0,1069.9 313.2,1069.4 316.3,1068.8 318.4,1068.4 321.6,1067.9 324.8,1067.4 327.9,1066.9 330.0,1066.6 333.2,1066.1 336.3,1065.6 339.5,1065.2 341.6,1064.9 344.8,1064.5 347.9,1064.1 350.0,1063.8 353.2,1063.5 356.4,1063.1 359.5,1062.8 361.6,1062.5 364.8,1062.2 368.0,1061.9 371.1,1061.6 373.2,1061.4 376.4,1061.1 379.6,1060.8 382.7,1060.5 384.8,1060.3 388.0,1060.0 391.1,1059.8 394.3,1059.5 396.4,1059.3 399.6,1059.1 402.7,1058.8 404.8,1058.7 408.0,1058.4 411.2,1058.2 414.3,1058.0 416.4,1057.8 419.6,1057.6 422.8,1057.3 425.9,1057.1 428.0,1057.0 431.2,1056.8 434.3,1056.6 437.5,1056.3 439.6,1056.2 442.8,1056.0 445.9,1055.8 448.0,1055.7 451.2,1055.5 454.4,1055.3 457.5,1055.1 459.6,1055.0 462.8,1054.8 466.0,1054.6 469.1,1054.4 471.2,1054.3 474.4,1054.1 477.5,1053.9 480.7,1053.8 482.8,1053.7 486.0,1053.5 489.1,1053.3 492.3,1053.2 494.4,1053.1 497.6,1052.9 500.7,1052.7 502.8,1052.6 506.0,1052.5 509.2,1052.3 512.3,1052.2 514.4,1052.1 517.6,1051.9 520.8,1051.8 523.9,1051.6 526.0,1051.5 529.2,1051.4 532.3,1051.3 535.5,1051.1 537.6,1051.0 540.8,1050.9 543.9,1050.8 546.0,1050.7 549.2,1050.5 552.4,1050.4 555.5,1050.3 557.6,1050.2 560.8,1050.1 564.0,1049.9 567.1,1049.8 569.2,1049.7 572.4,1049.6 575.5,1049.5 578.7,1049.4 580.8,1049.3 584.0,1049.2 587.1,1049.1 590.3,1048.9 592.4,1048.9 595.6,1048.8 598.7,1048.6 600.8,1048.6 604.0,1048.5 607.2,1048.4 610.3,1048.2 612.4,1048.2 615.6,1048.1 618.8,1048.0 621.9,1047.9 624.0,1047.8 627.2,1047.7 630.3,1047.6 633.5,1047.5 635.6,1047.4 638.8,1047.3 641.9,1047.2 644.0,1047.2 647.2,1047.1 650.4,1047.0 653.5,1046.9 655.6,1046.8 658.8,1046.7 662.0,1046.6 665.1,1046.5 667.2,1046.4 670.4,1046.3 673.5,1046.3 676.7,1046.2 678.8,1046.1 682.0,1046.0 685.1,1045.9 688.3,1045.8 690.4,1045.8 693.6,1045.7 696.7,1045.6 698.8,1045.5 702.0,1045.4 705.2,1045.4 708.3,1045.3 710.4,1045.2 713.6,1045.1 716.8,1045.0 719.9,1045.0 722.0,1044.9 725.2,1044.8 728.3,1044.7 731.5,1044.7 733.6,1044.6 736.8,1044.5 739.9,1044.4 742.0,1044.4 745.2,1044.3 748.4,1044.2 751.5,1044.2 753.6,1044.1 756.8,1044.0 760.0,1044.0 763.1,1043.9 765.2,1043.8 768.4,1043.8 771.5,1043.7 774.7,1043.6 776.8,1043.6 780.0,1043.5 783.1,1043.4 786.3,1043.3" fill="none" stroke="#000" stroke-width="3.8" stroke-linejoin="round" stroke-linecap="round"/>
<polyline points="155.1,1106.0 157.2,1105.7 160.4,1105.3 163.5,1104.8 165.6,1104.4 168.8,1103.9 172.0,1103.3 175.1,1102.7 177.2,1102.3 180.4,1101.6 183.6,1100.8 186.7,1100.0 188.8,1099.5 192.0,1098.7 195.1,1098.0 198.3,1097.2 200.4,1096.8 203.6,1096.1 206.7,1095.4 208.8,1094.9 212.0,1094.3 215.2,1093.6 218.3,1093.0 220.4,1092.6 223.6,1092.0 226.8,1091.4 229.9,1090.9 232.0,1090.5 235.2,1090.0 238.3,1089.5 241.5,1089.0 243.6,1088.7 246.8,1088.2 249.9,1087.8 252.0,1087.5 255.2,1087.0 258.4,1086.6 261.5,1086.2 263.6,1085.9 266.8,1085.5 270.0,1085.1 273.1,1084.7 275.2,1084.4 278.4,1084.0 281.6,1083.7 284.7,1083.3 286.8,1083.1 290.0,1082.7 293.1,1082.4 296.3,1082.0 298.4,1081.8 301.6,1081.5 304.7,1081.1 306.8,1080.9 310.0,1080.6 313.2,1080.3 316.3,1080.0 318.4,1079.8 321.6,1079.5 324.8,1079.2 327.9,1078.9 330.0,1078.7 333.2,1078.4 336.3,1078.1 339.5,1077.8 341.6,1077.7 344.8,1077.4 347.9,1077.1 350.0,1077.0 353.2,1076.7 356.4,1076.4 359.5,1076.2 361.6,1076.0 364.8,1075.8 368.0,1075.5 371.1,1075.3 373.2,1075.1 376.4,1074.9 379.6,1074.6 382.7,1074.4 384.8,1074.3 388.0,1074.0 391.1,1073.8 394.3,1073.6 396.4,1073.4 399.6,1073.2 402.7,1073.0 404.8,1072.8 408.0,1072.6 411.2,1072.4 414.3,1072.2 416.4,1072.1 419.6,1071.9 422.8,1071.6 425.9,1071.4 428.0,1071.3 431.2,1071.1 434.3,1070.9 437.5,1070.7 439.6,1070.6 442.8,1070.4 445.9,1070.2 448.0,1070.0 451.2,1069.9 454.4,1069.7 457.5,1069.5 459.6,1069.3 462.8,1069.2 466.0,1069.0 469.1,1068.8 471.2,1068.7 474.4,1068.5 477.5,1068.3 480.7,1068.1 482.8,1068.0 486.0,1067.8 489.1,1067.7 492.3,1067.5 494.4,1067.4 497.6,1067.2 500.7,1067.1 502.8,1067.0 506.0,1066.8 509.2,1066.6 512.3,1066.5 514.4,1066.4 517.6,1066.2 520.8,1066.1 523.9,1065.9 526.0,1065.8 529.2,1065.7 532.3,1065.6 535.5,1065.4 537.6,1065.3 540.8,1065.2 543.9,1065.0 546.0,1065.0 549.2,1064.8 552.4,1064.7 555.5,1064.6 557.6,1064.5 560.8,1064.4 564.0,1064.2 567.1,1064.1 569.2,1064.0 572.4,1063.9 575.5,1063.8 578.7,1063.7 580.8,1063.6 584.0,1063.5 587.1,1063.4 590.3,1063.3 592.4,1063.2 595.6,1063.1 598.7,1063.0 600.8,1062.9 604.0,1062.8 607.2,1062.7 610.3,1062.6 612.4,1062.5 615.6,1062.4 618.8,1062.3 621.9,1062.2 624.0,1062.1 627.2,1062.0 630.3,1061.9 633.5,1061.8 635.6,1061.7 638.8,1061.6 641.9,1061.5 644.0,1061.4 647.2,1061.3 650.4,1061.2 653.5,1061.1 655.6,1061.1 658.8,1061.0 662.0,1060.9 665.1,1060.8 667.2,1060.7 670.4,1060.6 673.5,1060.5 676.7,1060.4 678.8,1060.3 682.0,1060.2 685.1,1060.1 688.3,1060.0 690.4,1060.0 693.6,1059.9 696.7,1059.8 698.8,1059.7 702.0,1059.6 705.2,1059.5 708.3,1059.4 710.4,1059.3 713.6,1059.2 716.8,1059.2 719.9,1059.1 722.0,1059.0 725.2,1058.9 728.3,1058.8 731.5,1058.7 733.6,1058.7 736.8,1058.6 739.9,1058.5 742.0,1058.4 745.2,1058.3 748.4,1058.2 751.5,1058.1 753.6,1058.1 756.8,1058.0 760.0,1057.9 763.1,1057.8 765.2,1057.8 768.4,1057.7 771.5,1057.6 774.7,1057.5 776.8,1057.4 780.0,1057.3 783.1,1057.2 786.3,1057.2" fill="none" stroke="#000" stroke-width="3.8" stroke-linejoin="round" stroke-linecap="round"/>
<polyline points="155.1,1106.0 157.2,1105.7 160.4,1105.3 163.5,1104.8 165.6,1104.4 168.8,1103.9 172.0,1103.3 175.1,1102.7 177.2,1102.2 180.4,1101.5 183.6,1100.8 186.7,1100.0 188.8,1099.5 192.0,1098.7 195.1,1097.9 198.3,1097.2 200.4,1096.8 203.6,1096.2 206.7,1095.6 208.8,1095.3 212.0,1094.8 215.2,1094.3 218.3,1093.8 220.4,1093.5 223.6,1093.0 226.8,1092.6 229.9,1092.1 232.0,1091.8 235.2,1091.3 238.3,1090.9 241.5,1090.4 243.6,1090.1 246.8,1089.7 249.9,1089.2 252.0,1088.9 255.2,1088.5 258.4,1088.1 261.5,1087.6 263.6,1087.4 266.8,1086.9 270.0,1086.5 273.1,1086.1 275.2,1085.8 278.4,1085.4 281.6,1085.0 284.7,1084.7 286.8,1084.4 290.0,1084.0 293.1,1083.6 296.3,1083.3 298.4,1083.0 301.6,1082.7 304.7,1082.3 306.8,1082.1 310.0,1081.7 313.2,1081.4 316.3,1081.0 318.4,1080.8 321.6,1080.5 324.8,1080.2 327.9,1079.9 330.0,1079.7 333.2,1079.4 336.3,1079.1 339.5,1078.8 341.6,1078.6 344.8,1078.3 347.9,1078.1 350.0,1077.9 353.2,1077.6 356.4,1077.4 359.5,1077.1 361.6,1076.9 364.8,1076.7 368.0,1076.5 371.1,1076.2 373.2,1076.1 376.4,1075.8 379.6,1075.6 382.7,1075.4 384.8,1075.2 388.0,1075.0 391.1,1074.8 394.3,1074.6 396.4,1074.4 399.6,1074.2 402.7,1074.0 404.8,1073.9 408.0,1073.7 411.2,1073.4 414.3,1073.2 416.4,1073.1 419.6,1072.9 422.8,1072.7 425.9,1072.5 428.0,1072.4 431.2,1072.2 434.3,1072.0 437.5,1071.8 439.6,1071.6 442.8,1071.4 445.9,1071.2 448.0,1071.1 451.2,1070.9 454.4,1070.7 457.5,1070.5 459.6,1070.4 462.8,1070.2 466.0,1070.1 469.1,1069.9 471.2,1069.8 474.4,1069.6 477.5,1069.4 480.7,1069.2 482.8,1069.1 486.0,1069.0 489.1,1068.8 492.3,1068.7 494.4,1068.6 497.6,1068.4 500.7,1068.3 502.8,1068.2 506.0,1068.0 509.2,1067.9 512.3,1067.7 514.4,1067.7 517.6,1067.5 520.8,1067.4 523.9,1067.3 526.0,1067.2 529.2,1067.1 532.3,1067.0 535.5,1066.9 537.6,1066.8 540.8,1066.7 543.9,1066.6 546.0,1066.5 549.2,1066.4 552.4,1066.3 555.5,1066.2 557.6,1066.2 560.8,1066.1 564.0,1066.0 567.1,1065.9 569.2,1065.9 572.4,1065.8 575.5,1065.7 578.7,1065.6 580.8,1065.6 584.0,1065.5 587.1,1065.4 590.3,1065.4 592.4,1065.3 595.6,1065.2 598.7,1065.2 600.8,1065.1 604.0,1065.1 607.2,1065.0 610.3,1064.9 612.4,1064.9 615.6,1064.8 618.8,1064.7 621.9,1064.7 624.0,1064.6 627.2,1064.6 630.3,1064.5 633.5,1064.4 635.6,1064.4 638.8,1064.3 641.9,1064.3 644.0,1064.2 647.2,1064.2 650.4,1064.1 653.5,1064.0 655.6,1064.0 658.8,1063.9 662.0,1063.9 665.1,1063.8 667.2,1063.8 670.4,1063.7 673.5,1063.7 676.7,1063.6 678.8,1063.6 682.0,1063.5 685.1,1063.4 688.3,1063.4 690.4,1063.3 693.6,1063.3 696.7,1063.2 698.8,1063.2 702.0,1063.1 705.2,1063.1 708.3,1063.0 710.4,1063.0 713.6,1062.9 716.8,1062.8 719.9,1062.8 722.0,1062.7 725.2,1062.7 728.3,1062.6 731.5,1062.6 733.6,1062.5 736.8,1062.5 739.9,1062.4 742.0,1062.4 745.2,1062.3 748.4,1062.3 751.5,1062.2 753.6,1062.2 756.8,1062.1 760.0,1062.1 763.1,1062.0 765.2,1062.0 768.4,1062.0 771.5,1061.9 774.7,1061.9 776.8,1061.8 780.0,1061.8 783.1,1061.7 786.3,1061.7" fill="none" stroke="#000" stroke-width="3.8" stroke-linejoin="round" stroke-linecap="round"/>
</g>
<line x1="281.3" y1="1112.0" x2="281.3" y2="1097.5" stroke="#000" stroke-width="3.8" stroke-linecap="round"/>
<line x1="281.3" y1="661.2" x2="281.3" y2="675.7" stroke="#000" stroke-width="3.8" stroke-linecap="round"/>
<line x1="407.6" y1="1112.0" x2="407.6" y2="1097.5" stroke="#000" stroke-width="3.8" stroke-linecap="round"/>
<line x1="407.6" y1="661.2" x2="407.6" y2="675.7" stroke="#000" stroke-width="3.8" stroke-linecap="round"/>
<line x1="533.8" y1="1112.0" x2="533.8" y2="1097.5" stroke="#000" stroke-width="3.8" stroke-linecap="round"/>
<line x1="533.8" y1="661.2" x2="533.8" y2="675.7" stroke="#000" stroke-width="3.8" stroke-linecap="round"/>
<line x1="660.1" y1="1112.0" x2="660.1" y2="1097.5" stroke="#000" stroke-width="3.8" stroke-linecap="round"/>
<line x1="660.1" y1="661.2" x2="660.1" y2="675.7" stroke="#000" stroke-width="3.8" stroke-linecap="round"/>
<line x1="155.1" y1="961.7" x2="169.6" y2="961.7" stroke="#000" stroke-width="3.8" stroke-linecap="round"/>
<line x1="786.3" y1="961.7" x2="771.8" y2="961.7" stroke="#000" stroke-width="3.8" stroke-linecap="round"/>
<line x1="155.1" y1="811.5" x2="169.6" y2="811.5" stroke="#000" stroke-width="3.8" stroke-linecap="round"/>
<line x1="786.3" y1="811.5" x2="771.8" y2="811.5" stroke="#000" stroke-width="3.8" stroke-linecap="round"/>
<rect x="155.1" y="661.2" width="631.2" height="450.8" fill="none" stroke="#000" stroke-width="4.3"/>
<text x="123.24" y="1122.20" font-size="36" textLength="21.67" lengthAdjust="spacingAndGlyphs">0</text>
<text x="82.92" y="971.93" font-size="36" textLength="61.93" lengthAdjust="spacingAndGlyphs">100</text>
<text x="81.40" y="821.67" font-size="36" textLength="63.48" lengthAdjust="spacingAndGlyphs">200</text>
<text x="81.98" y="671.40" font-size="36" textLength="62.88" lengthAdjust="spacingAndGlyphs">300</text>
<text x="144.46" y="1150.20" font-size="36" textLength="21.33" lengthAdjust="spacingAndGlyphs">0</text>
<text x="270.02" y="1150.20" font-size="36" textLength="22.49" lengthAdjust="spacingAndGlyphs">2</text>
<text x="397.55" y="1150.20" font-size="36" textLength="20.28" lengthAdjust="spacingAndGlyphs">4</text>
<text x="522.52" y="1150.20" font-size="36" textLength="22.25" lengthAdjust="spacingAndGlyphs">6</text>
<text x="649.19" y="1150.20" font-size="36" textLength="21.78" lengthAdjust="spacingAndGlyphs">8</text>
<text x="763.88" y="1150.20" font-size="36" textLength="43.33" lengthAdjust="spacingAndGlyphs">10</text>
<text x="164.43" y="694.00" font-size="32.5" textLength="40.28" lengthAdjust="spacingAndGlyphs">(c)</text>
<text x="402.50" y="1194.40" font-size="44.5" textLength="27.49" lengthAdjust="spacingAndGlyphs" font-style="italic">V</text>
<text x="429.46" y="1200.90" font-size="29.5" textLength="44.07" lengthAdjust="spacingAndGlyphs">DS</text>
<text x="483.13" y="1194.40" font-size="44.5" textLength="57.14" lengthAdjust="spacingAndGlyphs">[V]</text>
<text transform="translate(69.8,1007.5) rotate(-90)" font-size="44.5"><tspan font-style="italic">I</tspan><tspan font-size="29.5" dy="6.5">DS</tspan><tspan dy="-6.5"> [mA/mm]</tspan></text>
<text x="172.53" y="781.50" font-size="36.5" textLength="24.86" lengthAdjust="spacingAndGlyphs" font-style="italic">V</text>
<text x="197.28" y="789.80" font-size="25.8" textLength="38.23" lengthAdjust="spacingAndGlyphs">GS</text>
<text x="246.77" y="781.50" font-size="36.5" textLength="269.71" lengthAdjust="spacingAndGlyphs">= -5.0 V ~ 3.0 V</text>
<text x="173.62" y="819.60" font-size="36.5" textLength="24.96" lengthAdjust="spacingAndGlyphs" font-style="italic">V</text>
<text x="197.48" y="827.90" font-size="25.8" textLength="38.23" lengthAdjust="spacingAndGlyphs">GS</text>
<text x="244.14" y="827.90" font-size="21" textLength="49.95" lengthAdjust="spacingAndGlyphs">step</text>
<text x="305.09" y="819.60" font-size="36.5" textLength="121.79" lengthAdjust="spacingAndGlyphs">= 1.0 V</text>
<defs><clipPath id="clipd"><rect x="943.5" y="662.0" width="632.1" height="450.6"/></clipPath></defs>
<g clip-path="url(#clipd)">
<polyline points="984.6,1112.6 986.6,1109.1 989.5,1104.3 992.5,1099.9 994.5,1097.2 997.4,1093.2 1000.4,1089.4 1003.3,1085.7 1005.3,1083.2 1008.3,1079.6 1011.2,1076.0 1014.2,1072.4 1016.2,1069.9 1019.1,1066.2 1022.1,1062.3 1025.0,1058.3 1027.0,1055.7 1030.0,1051.7 1032.9,1047.7 1034.9,1045.2 1037.9,1041.4 1040.8,1037.8 1043.8,1034.4 1045.8,1032.1 1048.7,1028.8 1051.7,1025.6 1054.6,1022.4 1056.6,1020.3 1059.6,1017.2 1062.5,1014.1 1065.5,1011.0 1067.5,1008.9 1070.4,1005.8 1073.4,1002.7 1075.4,1000.5 1078.3,997.4 1081.3,994.2 1084.2,991.0 1086.2,988.9 1089.2,985.7 1092.1,982.5 1095.1,979.4 1097.1,977.3 1100.0,974.1 1103.0,971.0 1105.9,967.8 1107.9,965.7 1110.9,962.6 1113.8,959.5 1116.8,956.4 1118.8,954.4 1121.7,951.3 1124.7,948.2 1126.7,946.1 1129.6,943.1 1132.6,940.0 1135.5,936.9 1137.5,934.9 1140.5,931.8 1143.4,928.7 1146.4,925.7 1148.4,923.7 1151.3,920.6 1154.3,917.6 1157.3,914.6 1159.2,912.6 1162.2,909.6 1165.1,906.7 1167.1,904.7 1170.1,901.8 1173.0,898.8 1176.0,895.9 1178.0,894.0 1180.9,891.2 1183.9,888.4 1186.9,885.6 1188.8,883.7 1191.8,881.0 1194.7,878.3 1197.7,875.6 1199.7,873.8 1202.6,871.2 1205.6,868.6 1208.6,866.1 1210.5,864.5 1213.5,862.0 1216.5,859.6 1218.4,858.0 1221.4,855.7 1224.3,853.4 1227.3,851.2 1229.3,849.7 1232.2,847.6 1235.2,845.5 1238.2,843.4 1240.1,842.1 1243.1,840.1 1246.1,838.2 1249.0,836.3 1251.0,835.1 1253.9,833.2 1256.9,831.5 1258.9,830.3 1261.8,828.6 1264.8,826.9 1267.8,825.3 1269.7,824.2 1272.7,822.6 1275.7,821.1 1278.6,819.6 1280.6,818.6 1283.5,817.1 1286.5,815.6 1289.5,814.2 1291.4,813.3 1294.4,811.9 1297.4,810.5 1300.3,809.2 1302.3,808.3 1305.3,807.1 1308.2,805.8 1310.2,805.0 1313.1,803.8 1316.1,802.6 1319.1,801.4 1321.0,800.6 1324.0,799.5 1327.0,798.4 1329.9,797.4 1331.9,796.7 1334.9,795.6 1337.8,794.6 1340.8,793.7 1342.7,793.0 1345.7,792.1 1348.7,791.2 1350.6,790.6 1353.6,789.7 1356.6,788.9 1359.5,788.0 1361.5,787.5 1364.5,786.7 1367.4,785.9 1370.4,785.1 1372.3,784.6 1375.3,783.9 1378.3,783.2 1381.2,782.4 1383.2,782.0 1386.2,781.3 1389.1,780.6 1392.1,780.0 1394.1,779.6 1397.0,778.9 1400.0,778.3 1401.9,777.9 1404.9,777.3 1407.9,776.7 1410.8,776.1 1412.8,775.7 1415.8,775.2 1418.7,774.6 1421.7,774.1 1423.7,773.7 1426.6,773.2 1429.6,772.7 1432.5,772.2 1434.5,771.8 1437.5,771.3 1440.4,770.8 1442.4,770.5 1445.4,770.0 1448.3,769.6 1451.3,769.1 1453.3,768.8 1456.2,768.4 1459.2,767.9 1462.1,767.5 1464.1,767.2 1467.1,766.8 1470.0,766.3 1473.0,765.9 1475.0,765.6 1477.9,765.2 1480.9,764.8 1483.8,764.4 1485.8,764.2 1488.8,763.8 1491.7,763.4 1493.7,763.1 1496.7,762.8 1499.6,762.4 1502.6,762.0 1504.6,761.8 1507.5,761.4 1510.5,761.0 1513.4,760.7 1515.4,760.4 1518.4,760.1 1521.3,759.8 1524.3,759.4 1526.3,759.2 1529.2,758.9 1532.2,758.5 1534.2,758.3 1537.1,758.0 1540.1,757.7 1543.0,757.4 1545.0,757.2 1548.0,756.9 1550.9,756.6 1553.9,756.3 1555.9,756.1 1558.8,755.8 1561.8,755.5 1564.7,755.3 1566.7,755.1 1569.7,754.8 1572.6,754.5 1575.6,754.2" fill="none" stroke="#000" stroke-width="3.8" stroke-linejoin="round" stroke-linecap="round"/>
<polyline points="943.5,1109.6 945.6,1109.6 948.8,1109.5 951.9,1109.3 954.1,1108.9 957.2,1107.3 960.4,1105.0 963.5,1102.4 965.7,1100.5 968.8,1097.8 972.0,1095.2 975.2,1092.6 977.3,1090.9 980.4,1088.4 983.6,1085.9 986.8,1083.3 988.9,1081.6 992.0,1079.0 995.2,1076.3 997.3,1074.5 1000.5,1071.8 1003.6,1069.1 1006.8,1066.3 1008.9,1064.5 1012.1,1061.7 1015.3,1058.9 1018.4,1056.2 1020.5,1054.3 1023.7,1051.5 1026.9,1048.7 1030.0,1045.8 1032.1,1043.9 1035.3,1041.1 1038.5,1038.3 1040.6,1036.4 1043.7,1033.5 1046.9,1030.7 1050.1,1027.9 1052.2,1026.0 1055.4,1023.3 1058.5,1020.5 1061.7,1017.8 1063.8,1016.0 1067.0,1013.3 1070.1,1010.6 1073.3,1007.9 1075.4,1006.2 1078.6,1003.6 1081.7,1001.0 1084.9,998.4 1087.0,996.7 1090.2,994.2 1093.3,991.7 1095.5,990.0 1098.6,987.6 1101.8,985.2 1105.0,982.8 1107.1,981.3 1110.2,979.0 1113.4,976.7 1116.6,974.6 1118.7,973.1 1121.8,971.0 1125.0,969.0 1128.2,966.9 1130.3,965.6 1133.4,963.7 1136.6,961.8 1138.7,960.6 1141.9,958.8 1145.1,957.0 1148.2,955.3 1150.3,954.1 1153.5,952.4 1156.7,950.8 1159.8,949.2 1161.9,948.2 1165.1,946.6 1168.3,945.1 1171.4,943.6 1173.5,942.6 1176.7,941.2 1179.9,939.8 1183.0,938.4 1185.2,937.5 1188.3,936.1 1191.5,934.8 1193.6,933.9 1196.8,932.7 1199.9,931.4 1203.1,930.2 1205.2,929.4 1208.4,928.3 1211.5,927.1 1214.7,926.1 1216.8,925.4 1220.0,924.3 1223.1,923.3 1226.3,922.4 1228.4,921.8 1231.6,920.9 1234.8,920.1 1236.9,919.5 1240.0,918.7 1243.2,918.0 1246.4,917.3 1248.5,916.9 1251.6,916.2 1254.8,915.6 1258.0,915.0 1260.1,914.7 1263.2,914.2 1266.4,913.7 1269.6,913.2 1271.7,912.9 1274.9,912.4 1278.0,912.0 1281.2,911.6 1283.3,911.4 1286.5,911.0 1289.6,910.6 1291.7,910.4 1294.9,910.1 1298.1,909.7 1301.2,909.4 1303.3,909.2 1306.5,908.9 1309.7,908.6 1312.8,908.3 1315.0,908.1 1318.1,907.8 1321.3,907.5 1324.4,907.2 1326.6,907.0 1329.7,906.7 1332.9,906.4 1335.0,906.2 1338.2,906.0 1341.3,905.7 1344.5,905.4 1346.6,905.2 1349.8,905.0 1352.9,904.7 1356.1,904.4 1358.2,904.2 1361.4,904.0 1364.5,903.7 1367.7,903.4 1369.8,903.3 1373.0,903.0 1376.2,902.7 1379.3,902.5 1381.4,902.3 1384.6,902.0 1387.8,901.8 1389.9,901.6 1393.0,901.3 1396.2,901.1 1399.4,900.8 1401.5,900.7 1404.6,900.4 1407.8,900.2 1411.0,899.9 1413.1,899.8 1416.3,899.5 1419.4,899.3 1422.6,899.0 1424.7,898.9 1427.9,898.6 1431.0,898.4 1433.1,898.3 1436.3,898.0 1439.5,897.8 1442.6,897.6 1444.7,897.4 1447.9,897.2 1451.1,897.0 1454.2,896.8 1456.4,896.6 1459.5,896.4 1462.7,896.2 1465.9,896.0 1468.0,895.8 1471.1,895.6 1474.3,895.4 1477.5,895.2 1479.6,895.1 1482.7,894.9 1485.9,894.7 1488.0,894.5 1491.2,894.3 1494.3,894.1 1497.5,893.9 1499.6,893.8 1502.8,893.6 1506.0,893.4 1509.1,893.2 1511.2,893.1 1514.4,892.9 1517.6,892.7 1520.7,892.5 1522.8,892.4 1526.0,892.2 1529.2,892.0 1531.3,891.9 1534.4,891.7 1537.6,891.6 1540.8,891.4 1542.9,891.3 1546.1,891.1 1549.2,890.9 1552.4,890.8 1554.5,890.7 1557.7,890.5 1560.8,890.3 1564.0,890.2 1566.1,890.1 1569.3,889.9 1572.4,889.7 1575.6,889.6" fill="none" stroke="#000" stroke-width="3.8" stroke-linejoin="round" stroke-linecap="round"/>
<polyline points="943.5,1109.6 945.6,1109.6 948.8,1109.6 951.9,1109.4 954.1,1109.1 957.2,1108.1 960.4,1106.5 963.5,1104.5 965.7,1103.1 968.8,1100.8 972.0,1098.5 975.2,1096.2 977.3,1094.8 980.4,1092.7 983.6,1090.6 986.8,1088.6 988.9,1087.2 992.0,1085.1 995.2,1083.0 997.3,1081.6 1000.5,1079.6 1003.6,1077.5 1006.8,1075.5 1008.9,1074.2 1012.1,1072.2 1015.3,1070.3 1018.4,1068.4 1020.5,1067.2 1023.7,1065.4 1026.9,1063.6 1030.0,1061.9 1032.1,1060.7 1035.3,1059.0 1038.5,1057.3 1040.6,1056.2 1043.7,1054.5 1046.9,1052.8 1050.1,1051.2 1052.2,1050.1 1055.4,1048.5 1058.5,1047.0 1061.7,1045.4 1063.8,1044.4 1067.0,1042.8 1070.1,1041.3 1073.3,1039.8 1075.4,1038.8 1078.6,1037.4 1081.7,1035.9 1084.9,1034.5 1087.0,1033.5 1090.2,1032.1 1093.3,1030.8 1095.5,1029.8 1098.6,1028.5 1101.8,1027.2 1105.0,1025.9 1107.1,1025.0 1110.2,1023.8 1113.4,1022.6 1116.6,1021.4 1118.7,1020.6 1121.8,1019.5 1125.0,1018.4 1128.2,1017.4 1130.3,1016.7 1133.4,1015.7 1136.6,1014.7 1138.7,1014.1 1141.9,1013.2 1145.1,1012.3 1148.2,1011.5 1150.3,1011.0 1153.5,1010.2 1156.7,1009.5 1159.8,1008.8 1161.9,1008.3 1165.1,1007.7 1168.3,1007.0 1171.4,1006.5 1173.5,1006.1 1176.7,1005.5 1179.9,1005.0 1183.0,1004.6 1185.2,1004.3 1188.3,1003.8 1191.5,1003.4 1193.6,1003.1 1196.8,1002.8 1199.9,1002.4 1203.1,1002.1 1205.2,1001.9 1208.4,1001.6 1211.5,1001.3 1214.7,1001.0 1216.8,1000.8 1220.0,1000.6 1223.1,1000.3 1226.3,1000.1 1228.4,999.9 1231.6,999.7 1234.8,999.5 1236.9,999.4 1240.0,999.2 1243.2,999.0 1246.4,998.8 1248.5,998.6 1251.6,998.4 1254.8,998.3 1258.0,998.1 1260.1,998.0 1263.2,997.8 1266.4,997.6 1269.6,997.4 1271.7,997.3 1274.9,997.2 1278.0,997.0 1281.2,996.8 1283.3,996.7 1286.5,996.6 1289.6,996.4 1291.7,996.3 1294.9,996.2 1298.1,996.0 1301.2,995.9 1303.3,995.8 1306.5,995.6 1309.7,995.5 1312.8,995.4 1315.0,995.3 1318.1,995.1 1321.3,995.0 1324.4,994.9 1326.6,994.8 1329.7,994.6 1332.9,994.5 1335.0,994.4 1338.2,994.3 1341.3,994.2 1344.5,994.0 1346.6,993.9 1349.8,993.8 1352.9,993.7 1356.1,993.6 1358.2,993.5 1361.4,993.3 1364.5,993.2 1367.7,993.1 1369.8,993.0 1373.0,992.9 1376.2,992.7 1379.3,992.6 1381.4,992.5 1384.6,992.4 1387.8,992.3 1389.9,992.2 1393.0,992.0 1396.2,991.9 1399.4,991.8 1401.5,991.7 1404.6,991.5 1407.8,991.4 1411.0,991.3 1413.1,991.2 1416.3,991.0 1419.4,990.9 1422.6,990.7 1424.7,990.6 1427.9,990.5 1431.0,990.4 1433.1,990.3 1436.3,990.1 1439.5,990.0 1442.6,989.8 1444.7,989.7 1447.9,989.6 1451.1,989.4 1454.2,989.2 1456.4,989.1 1459.5,989.0 1462.7,988.8 1465.9,988.7 1468.0,988.6 1471.1,988.4 1474.3,988.3 1477.5,988.1 1479.6,988.0 1482.7,987.8 1485.9,987.7 1488.0,987.6 1491.2,987.4 1494.3,987.2 1497.5,987.1 1499.6,987.0 1502.8,986.8 1506.0,986.6 1509.1,986.5 1511.2,986.4 1514.4,986.2 1517.6,986.0 1520.7,985.9 1522.8,985.8 1526.0,985.6 1529.2,985.4 1531.3,985.3 1534.4,985.1 1537.6,985.0 1540.8,984.8 1542.9,984.7 1546.1,984.5 1549.2,984.4 1552.4,984.2 1554.5,984.1 1557.7,983.9 1560.8,983.7 1564.0,983.5 1566.1,983.4 1569.3,983.2 1572.4,983.0 1575.6,982.8" fill="none" stroke="#000" stroke-width="3.8" stroke-linejoin="round" stroke-linecap="round"/>
<polyline points="943.5,1109.6 945.6,1109.6 948.8,1109.6 951.9,1109.5 954.1,1109.4 957.2,1108.8 960.4,1108.0 963.5,1106.9 965.7,1106.1 968.8,1104.8 972.0,1103.4 975.2,1102.0 977.3,1101.0 980.4,1099.5 983.6,1097.9 986.8,1096.3 988.9,1095.1 992.0,1093.4 995.2,1091.7 997.3,1090.6 1000.5,1089.1 1003.6,1087.7 1006.8,1086.5 1008.9,1085.7 1012.1,1084.6 1015.3,1083.5 1018.4,1082.5 1020.5,1081.8 1023.7,1080.8 1026.9,1079.9 1030.0,1079.0 1032.1,1078.3 1035.3,1077.4 1038.5,1076.6 1040.6,1076.0 1043.7,1075.1 1046.9,1074.3 1050.1,1073.5 1052.2,1073.0 1055.4,1072.2 1058.5,1071.4 1061.7,1070.7 1063.8,1070.2 1067.0,1069.4 1070.1,1068.7 1073.3,1068.0 1075.4,1067.6 1078.6,1066.9 1081.7,1066.2 1084.9,1065.5 1087.0,1065.1 1090.2,1064.5 1093.3,1063.8 1095.5,1063.4 1098.6,1062.8 1101.8,1062.2 1105.0,1061.7 1107.1,1061.3 1110.2,1060.7 1113.4,1060.2 1116.6,1059.7 1118.7,1059.4 1121.8,1058.9 1125.0,1058.4 1128.2,1058.0 1130.3,1057.7 1133.4,1057.3 1136.6,1056.9 1138.7,1056.7 1141.9,1056.3 1145.1,1056.0 1148.2,1055.6 1150.3,1055.4 1153.5,1055.1 1156.7,1054.8 1159.8,1054.6 1161.9,1054.4 1165.1,1054.1 1168.3,1053.9 1171.4,1053.6 1173.5,1053.5 1176.7,1053.3 1179.9,1053.1 1183.0,1052.9 1185.2,1052.7 1188.3,1052.5 1191.5,1052.3 1193.6,1052.2 1196.8,1052.0 1199.9,1051.8 1203.1,1051.7 1205.2,1051.5 1208.4,1051.4 1211.5,1051.2 1214.7,1051.0 1216.8,1050.9 1220.0,1050.8 1223.1,1050.6 1226.3,1050.4 1228.4,1050.3 1231.6,1050.2 1234.8,1050.0 1236.9,1049.9 1240.0,1049.8 1243.2,1049.6 1246.4,1049.5 1248.5,1049.4 1251.6,1049.2 1254.8,1049.1 1258.0,1049.0 1260.1,1048.9 1263.2,1048.8 1266.4,1048.6 1269.6,1048.5 1271.7,1048.4 1274.9,1048.3 1278.0,1048.2 1281.2,1048.1 1283.3,1048.0 1286.5,1047.9 1289.6,1047.8 1291.7,1047.8 1294.9,1047.7 1298.1,1047.6 1301.2,1047.5 1303.3,1047.4 1306.5,1047.4 1309.7,1047.3 1312.8,1047.2 1315.0,1047.1 1318.1,1047.1 1321.3,1047.0 1324.4,1046.9 1326.6,1046.9 1329.7,1046.8 1332.9,1046.7 1335.0,1046.7 1338.2,1046.6 1341.3,1046.5 1344.5,1046.5 1346.6,1046.4 1349.8,1046.4 1352.9,1046.3 1356.1,1046.2 1358.2,1046.2 1361.4,1046.1 1364.5,1046.1 1367.7,1046.0 1369.8,1046.0 1373.0,1045.9 1376.2,1045.8 1379.3,1045.8 1381.4,1045.7 1384.6,1045.7 1387.8,1045.6 1389.9,1045.6 1393.0,1045.5 1396.2,1045.4 1399.4,1045.4 1401.5,1045.3 1404.6,1045.3 1407.8,1045.2 1411.0,1045.1 1413.1,1045.1 1416.3,1045.0 1419.4,1044.9 1422.6,1044.9 1424.7,1044.8 1427.9,1044.8 1431.0,1044.7 1433.1,1044.6 1436.3,1044.6 1439.5,1044.5 1442.6,1044.4 1444.7,1044.4 1447.9,1044.3 1451.1,1044.2 1454.2,1044.2 1456.4,1044.1 1459.5,1044.0 1462.7,1044.0 1465.9,1043.9 1468.0,1043.8 1471.1,1043.8 1474.3,1043.7 1477.5,1043.6 1479.6,1043.6 1482.7,1043.5 1485.9,1043.4 1488.0,1043.4 1491.2,1043.3 1494.3,1043.2 1497.5,1043.1 1499.6,1043.1 1502.8,1043.0 1506.0,1042.9 1509.1,1042.9 1511.2,1042.8 1514.4,1042.7 1517.6,1042.7 1520.7,1042.6 1522.8,1042.5 1526.0,1042.5 1529.2,1042.4 1531.3,1042.3 1534.4,1042.3 1537.6,1042.2 1540.8,1042.1 1542.9,1042.1 1546.1,1042.0 1549.2,1041.9 1552.4,1041.9 1554.5,1041.8 1557.7,1041.7 1560.8,1041.6 1564.0,1041.6 1566.1,1041.5 1569.3,1041.4 1572.4,1041.3 1575.6,1041.3" fill="none" stroke="#000" stroke-width="3.8" stroke-linejoin="round" stroke-linecap="round"/>
<polyline points="943.5,1109.6 945.6,1109.6 948.8,1109.6 951.9,1109.5 954.1,1109.4 957.2,1109.1 960.4,1108.6 963.5,1108.0 965.7,1107.5 968.8,1106.7 972.0,1105.9 975.2,1105.1 977.3,1104.5 980.4,1103.6 983.6,1102.7 986.8,1101.8 988.9,1101.1 992.0,1100.2 995.2,1099.2 997.3,1098.6 1000.5,1097.8 1003.6,1097.0 1006.8,1096.2 1008.9,1095.8 1012.1,1095.1 1015.3,1094.5 1018.4,1093.9 1020.5,1093.4 1023.7,1092.9 1026.9,1092.3 1030.0,1091.7 1032.1,1091.3 1035.3,1090.8 1038.5,1090.2 1040.6,1089.9 1043.7,1089.4 1046.9,1088.9 1050.1,1088.4 1052.2,1088.0 1055.4,1087.6 1058.5,1087.1 1061.7,1086.6 1063.8,1086.3 1067.0,1085.9 1070.1,1085.4 1073.3,1085.0 1075.4,1084.7 1078.6,1084.3 1081.7,1083.9 1084.9,1083.5 1087.0,1083.2 1090.2,1082.8 1093.3,1082.4 1095.5,1082.2 1098.6,1081.8 1101.8,1081.5 1105.0,1081.1 1107.1,1080.9 1110.2,1080.6 1113.4,1080.3 1116.6,1080.0 1118.7,1079.8 1121.8,1079.5 1125.0,1079.3 1128.2,1079.0 1130.3,1078.9 1133.4,1078.7 1136.6,1078.5 1138.7,1078.3 1141.9,1078.2 1145.1,1078.0 1148.2,1077.8 1150.3,1077.7 1153.5,1077.6 1156.7,1077.5 1159.8,1077.4 1161.9,1077.3 1165.1,1077.2 1168.3,1077.1 1171.4,1077.0 1173.5,1077.0 1176.7,1076.9 1179.9,1076.8 1183.0,1076.7 1185.2,1076.7 1188.3,1076.6 1191.5,1076.6 1193.6,1076.5 1196.8,1076.5 1199.9,1076.4 1203.1,1076.3 1205.2,1076.3 1208.4,1076.2 1211.5,1076.2 1214.7,1076.1 1216.8,1076.1 1220.0,1076.0 1223.1,1076.0 1226.3,1075.9 1228.4,1075.9 1231.6,1075.8 1234.8,1075.8 1236.9,1075.7 1240.0,1075.7 1243.2,1075.6 1246.4,1075.5 1248.5,1075.5 1251.6,1075.5 1254.8,1075.4 1258.0,1075.3 1260.1,1075.3 1263.2,1075.2 1266.4,1075.2 1269.6,1075.1 1271.7,1075.1 1274.9,1075.0 1278.0,1075.0 1281.2,1074.9 1283.3,1074.9 1286.5,1074.9 1289.6,1074.8 1291.7,1074.8 1294.9,1074.7 1298.1,1074.7 1301.2,1074.6 1303.3,1074.6 1306.5,1074.6 1309.7,1074.5 1312.8,1074.5 1315.0,1074.4 1318.1,1074.4 1321.3,1074.3 1324.4,1074.3 1326.6,1074.3 1329.7,1074.2 1332.9,1074.2 1335.0,1074.2 1338.2,1074.1 1341.3,1074.1 1344.5,1074.0 1346.6,1074.0 1349.8,1074.0 1352.9,1073.9 1356.1,1073.9 1358.2,1073.9 1361.4,1073.8 1364.5,1073.8 1367.7,1073.8 1369.8,1073.7 1373.0,1073.7 1376.2,1073.6 1379.3,1073.6 1381.4,1073.6 1384.6,1073.5 1387.8,1073.5 1389.9,1073.5 1393.0,1073.5 1396.2,1073.4 1399.4,1073.4 1401.5,1073.4 1404.6,1073.3 1407.8,1073.3 1411.0,1073.3 1413.1,1073.2 1416.3,1073.2 1419.4,1073.2 1422.6,1073.1 1424.7,1073.1 1427.9,1073.1 1431.0,1073.0 1433.1,1073.0 1436.3,1073.0 1439.5,1072.9 1442.6,1072.9 1444.7,1072.9 1447.9,1072.9 1451.1,1072.8 1454.2,1072.8 1456.4,1072.8 1459.5,1072.7 1462.7,1072.7 1465.9,1072.7 1468.0,1072.7 1471.1,1072.6 1474.3,1072.6 1477.5,1072.6 1479.6,1072.6 1482.7,1072.5 1485.9,1072.5 1488.0,1072.5 1491.2,1072.5 1494.3,1072.4 1497.5,1072.4 1499.6,1072.4 1502.8,1072.4 1506.0,1072.3 1509.1,1072.3 1511.2,1072.3 1514.4,1072.3 1517.6,1072.3 1520.7,1072.2 1522.8,1072.2 1526.0,1072.2 1529.2,1072.2 1531.3,1072.2 1534.4,1072.1 1537.6,1072.1 1540.8,1072.1 1542.9,1072.1 1546.1,1072.1 1549.2,1072.0 1552.4,1072.0 1554.5,1072.0 1557.7,1072.0 1560.8,1072.0 1564.0,1072.0 1566.1,1071.9 1569.3,1071.9 1572.4,1071.9 1575.6,1071.9" fill="none" stroke="#000" stroke-width="3.8" stroke-linejoin="round" stroke-linecap="round"/>
<polyline points="943.5,1109.6 945.6,1109.6 948.8,1109.6 951.9,1109.6 954.1,1109.5 957.2,1109.3 960.4,1108.9 963.5,1108.5 965.7,1108.2 968.8,1107.7 972.0,1107.1 975.2,1106.6 977.3,1106.2 980.4,1105.6 983.6,1105.0 986.8,1104.3 988.9,1103.9 992.0,1103.3 995.2,1102.6 997.3,1102.2 1000.5,1101.7 1003.6,1101.2 1006.8,1100.7 1008.9,1100.5 1012.1,1100.1 1015.3,1099.7 1018.4,1099.3 1020.5,1099.1 1023.7,1098.8 1026.9,1098.5 1030.0,1098.1 1032.1,1097.9 1035.3,1097.6 1038.5,1097.3 1040.6,1097.1 1043.7,1096.8 1046.9,1096.6 1050.1,1096.3 1052.2,1096.1 1055.4,1095.8 1058.5,1095.6 1061.7,1095.3 1063.8,1095.2 1067.0,1094.9 1070.1,1094.7 1073.3,1094.4 1075.4,1094.3 1078.6,1094.0 1081.7,1093.8 1084.9,1093.6 1087.0,1093.4 1090.2,1093.2 1093.3,1093.0 1095.5,1092.8 1098.6,1092.6 1101.8,1092.4 1105.0,1092.2 1107.1,1092.1 1110.2,1091.9 1113.4,1091.7 1116.6,1091.5 1118.7,1091.4 1121.8,1091.2 1125.0,1091.1 1128.2,1090.9 1130.3,1090.8 1133.4,1090.7 1136.6,1090.5 1138.7,1090.4 1141.9,1090.3 1145.1,1090.2 1148.2,1090.0 1150.3,1090.0 1153.5,1089.9 1156.7,1089.8 1159.8,1089.7 1161.9,1089.6 1165.1,1089.5 1168.3,1089.4 1171.4,1089.4 1173.5,1089.3 1176.7,1089.2 1179.9,1089.2 1183.0,1089.1 1185.2,1089.1 1188.3,1089.0 1191.5,1089.0 1193.6,1088.9 1196.8,1088.9 1199.9,1088.8 1203.1,1088.8 1205.2,1088.8 1208.4,1088.7 1211.5,1088.7 1214.7,1088.7 1216.8,1088.6 1220.0,1088.6 1223.1,1088.6 1226.3,1088.6 1228.4,1088.5 1231.6,1088.5 1234.8,1088.5 1236.9,1088.5 1240.0,1088.5 1243.2,1088.4 1246.4,1088.4 1248.5,1088.4 1251.6,1088.4 1254.8,1088.4 1258.0,1088.3 1260.1,1088.3 1263.2,1088.3 1266.4,1088.3 1269.6,1088.3 1271.7,1088.3 1274.9,1088.3 1278.0,1088.2 1281.2,1088.2 1283.3,1088.2 1286.5,1088.2 1289.6,1088.2 1291.7,1088.2 1294.9,1088.2 1298.1,1088.2 1301.2,1088.1 1303.3,1088.1 1306.5,1088.1 1309.7,1088.1 1312.8,1088.1 1315.0,1088.1 1318.1,1088.1 1321.3,1088.1 1324.4,1088.1 1326.6,1088.1 1329.7,1088.0 1332.9,1088.0 1335.0,1088.0 1338.2,1088.0 1341.3,1088.0 1344.5,1088.0 1346.6,1088.0 1349.8,1088.0 1352.9,1087.9 1356.1,1087.9 1358.2,1087.9 1361.4,1087.9 1364.5,1087.9 1367.7,1087.9 1369.8,1087.9 1373.0,1087.9 1376.2,1087.9 1379.3,1087.8 1381.4,1087.8 1384.6,1087.8 1387.8,1087.8 1389.9,1087.8 1393.0,1087.8 1396.2,1087.8 1399.4,1087.7 1401.5,1087.7 1404.6,1087.7 1407.8,1087.7 1411.0,1087.7 1413.1,1087.7 1416.3,1087.7 1419.4,1087.7 1422.6,1087.6 1424.7,1087.6 1427.9,1087.6 1431.0,1087.6 1433.1,1087.6 1436.3,1087.6 1439.5,1087.6 1442.6,1087.5 1444.7,1087.5 1447.9,1087.5 1451.1,1087.5 1454.2,1087.5 1456.4,1087.5 1459.5,1087.5 1462.7,1087.5 1465.9,1087.4 1468.0,1087.4 1471.1,1087.4 1474.3,1087.4 1477.5,1087.4 1479.6,1087.4 1482.7,1087.4 1485.9,1087.3 1488.0,1087.3 1491.2,1087.3 1494.3,1087.3 1497.5,1087.3 1499.6,1087.3 1502.8,1087.3 1506.0,1087.2 1509.1,1087.2 1511.2,1087.2 1514.4,1087.2 1517.6,1087.2 1520.7,1087.2 1522.8,1087.2 1526.0,1087.2 1529.2,1087.1 1531.3,1087.1 1534.4,1087.1 1537.6,1087.1 1540.8,1087.1 1542.9,1087.1 1546.1,1087.1 1549.2,1087.0 1552.4,1087.0 1554.5,1087.0 1557.7,1087.0 1560.8,1087.0 1564.0,1087.0 1566.1,1087.0 1569.3,1086.9 1572.4,1086.9 1575.6,1086.9" fill="none" stroke="#000" stroke-width="3.8" stroke-linejoin="round" stroke-linecap="round"/>
<polyline points="943.5,1109.6 945.6,1109.6 948.8,1109.6 951.9,1109.6 954.1,1109.6 957.2,1109.4 960.4,1109.3 963.5,1109.1 965.7,1108.9 968.8,1108.7 972.0,1108.4 975.2,1108.0 977.3,1107.8 980.4,1107.4 983.6,1107.0 986.8,1106.5 988.9,1106.2 992.0,1105.7 995.2,1105.2 997.3,1104.9 1000.5,1104.4 1003.6,1104.0 1006.8,1103.7 1008.9,1103.5 1012.1,1103.2 1015.3,1102.9 1018.4,1102.6 1020.5,1102.4 1023.7,1102.2 1026.9,1101.9 1030.0,1101.6 1032.1,1101.5 1035.3,1101.2 1038.5,1101.0 1040.6,1100.9 1043.7,1100.6 1046.9,1100.4 1050.1,1100.2 1052.2,1100.1 1055.4,1099.9 1058.5,1099.7 1061.7,1099.5 1063.8,1099.4 1067.0,1099.2 1070.1,1099.0 1073.3,1098.8 1075.4,1098.7 1078.6,1098.6 1081.7,1098.4 1084.9,1098.3 1087.0,1098.2 1090.2,1098.0 1093.3,1097.9 1095.5,1097.8 1098.6,1097.6 1101.8,1097.5 1105.0,1097.4 1107.1,1097.3 1110.2,1097.2 1113.4,1097.1 1116.6,1096.9 1118.7,1096.9 1121.8,1096.8 1125.0,1096.7 1128.2,1096.6 1130.3,1096.5 1133.4,1096.4 1136.6,1096.3 1138.7,1096.3 1141.9,1096.2 1145.1,1096.1 1148.2,1096.1 1150.3,1096.0 1153.5,1096.0 1156.7,1095.9 1159.8,1095.9 1161.9,1095.8 1165.1,1095.8 1168.3,1095.7 1171.4,1095.7 1173.5,1095.7 1176.7,1095.6 1179.9,1095.6 1183.0,1095.5 1185.2,1095.5 1188.3,1095.5 1191.5,1095.5 1193.6,1095.4 1196.8,1095.4 1199.9,1095.4 1203.1,1095.4 1205.2,1095.3 1208.4,1095.3 1211.5,1095.3 1214.7,1095.3 1216.8,1095.3 1220.0,1095.2 1223.1,1095.2 1226.3,1095.2 1228.4,1095.2 1231.6,1095.2 1234.8,1095.1 1236.9,1095.1 1240.0,1095.1 1243.2,1095.1 1246.4,1095.1 1248.5,1095.1 1251.6,1095.1 1254.8,1095.0 1258.0,1095.0 1260.1,1095.0 1263.2,1095.0 1266.4,1095.0 1269.6,1095.0 1271.7,1095.0 1274.9,1095.0 1278.0,1095.0 1281.2,1094.9 1283.3,1094.9 1286.5,1094.9 1289.6,1094.9 1291.7,1094.9 1294.9,1094.9 1298.1,1094.9 1301.2,1094.9 1303.3,1094.9 1306.5,1094.8 1309.7,1094.8 1312.8,1094.8 1315.0,1094.8 1318.1,1094.8 1321.3,1094.8 1324.4,1094.8 1326.6,1094.8 1329.7,1094.8 1332.9,1094.8 1335.0,1094.8 1338.2,1094.7 1341.3,1094.7 1344.5,1094.7 1346.6,1094.7 1349.8,1094.7 1352.9,1094.7 1356.1,1094.7 1358.2,1094.7 1361.4,1094.7 1364.5,1094.7 1367.7,1094.6 1369.8,1094.6 1373.0,1094.6 1376.2,1094.6 1379.3,1094.6 1381.4,1094.6 1384.6,1094.6 1387.8,1094.6 1389.9,1094.6 1393.0,1094.5 1396.2,1094.5 1399.4,1094.5 1401.5,1094.5 1404.6,1094.5 1407.8,1094.5 1411.0,1094.5 1413.1,1094.5 1416.3,1094.5 1419.4,1094.4 1422.6,1094.4 1424.7,1094.4 1427.9,1094.4 1431.0,1094.4 1433.1,1094.4 1436.3,1094.4 1439.5,1094.4 1442.6,1094.4 1444.7,1094.3 1447.9,1094.3 1451.1,1094.3 1454.2,1094.3 1456.4,1094.3 1459.5,1094.3 1462.7,1094.3 1465.9,1094.3 1468.0,1094.2 1471.1,1094.2 1474.3,1094.2 1477.5,1094.2 1479.6,1094.2 1482.7,1094.2 1485.9,1094.2 1488.0,1094.2 1491.2,1094.2 1494.3,1094.1 1497.5,1094.1 1499.6,1094.1 1502.8,1094.1 1506.0,1094.1 1509.1,1094.1 1511.2,1094.1 1514.4,1094.1 1517.6,1094.1 1520.7,1094.0 1522.8,1094.0 1526.0,1094.0 1529.2,1094.0 1531.3,1094.0 1534.4,1094.0 1537.6,1094.0 1540.8,1094.0 1542.9,1094.0 1546.1,1093.9 1549.2,1093.9 1552.4,1093.9 1554.5,1093.9 1557.7,1093.9 1560.8,1093.9 1564.0,1093.9 1566.1,1093.9 1569.3,1093.9 1572.4,1093.8 1575.6,1093.8" fill="none" stroke="#000" stroke-width="3.8" stroke-linejoin="round" stroke-linecap="round"/>
<polyline points="943.5,1109.6 945.6,1109.6 948.8,1109.6 951.9,1109.6 954.1,1109.6 957.2,1109.5 960.4,1109.4 963.5,1109.3 965.7,1109.3 968.8,1109.1 972.0,1109.0 975.2,1108.8 977.3,1108.7 980.4,1108.4 983.6,1108.1 986.8,1107.8 988.9,1107.6 992.0,1107.3 995.2,1106.9 997.3,1106.7 1000.5,1106.4 1003.6,1106.1 1006.8,1105.9 1008.9,1105.8 1012.1,1105.6 1015.3,1105.4 1018.4,1105.2 1020.5,1105.1 1023.7,1105.0 1026.9,1104.8 1030.0,1104.6 1032.1,1104.5 1035.3,1104.4 1038.5,1104.3 1040.6,1104.2 1043.7,1104.0 1046.9,1103.9 1050.1,1103.8 1052.2,1103.7 1055.4,1103.6 1058.5,1103.5 1061.7,1103.4 1063.8,1103.4 1067.0,1103.3 1070.1,1103.2 1073.3,1103.2 1075.4,1103.1 1078.6,1103.1 1081.7,1103.0 1084.9,1102.9 1087.0,1102.9 1090.2,1102.9 1093.3,1102.8 1095.5,1102.8 1098.6,1102.7 1101.8,1102.7 1105.0,1102.7 1107.1,1102.6 1110.2,1102.6 1113.4,1102.6 1116.6,1102.6 1118.7,1102.5 1121.8,1102.5 1125.0,1102.5 1128.2,1102.5 1130.3,1102.4 1133.4,1102.4 1136.6,1102.4 1138.7,1102.4 1141.9,1102.4 1145.1,1102.4 1148.2,1102.3 1150.3,1102.3 1153.5,1102.3 1156.7,1102.3 1159.8,1102.3 1161.9,1102.3 1165.1,1102.3 1168.3,1102.2 1171.4,1102.2 1173.5,1102.2 1176.7,1102.2 1179.9,1102.2 1183.0,1102.2 1185.2,1102.2 1188.3,1102.1 1191.5,1102.1 1193.6,1102.1 1196.8,1102.1 1199.9,1102.1 1203.1,1102.1 1205.2,1102.1 1208.4,1102.0 1211.5,1102.0 1214.7,1102.0 1216.8,1102.0 1220.0,1102.0 1223.1,1102.0 1226.3,1102.0 1228.4,1102.0 1231.6,1101.9 1234.8,1101.9 1236.9,1101.9 1240.0,1101.9 1243.2,1101.9 1246.4,1101.9 1248.5,1101.9 1251.6,1101.9 1254.8,1101.8 1258.0,1101.8 1260.1,1101.8 1263.2,1101.8 1266.4,1101.8 1269.6,1101.8 1271.7,1101.8 1274.9,1101.8 1278.0,1101.7 1281.2,1101.7 1283.3,1101.7 1286.5,1101.7 1289.6,1101.7 1291.7,1101.7 1294.9,1101.7 1298.1,1101.7 1301.2,1101.6 1303.3,1101.6 1306.5,1101.6 1309.7,1101.6 1312.8,1101.6 1315.0,1101.6 1318.1,1101.6 1321.3,1101.6 1324.4,1101.6 1326.6,1101.6 1329.7,1101.5 1332.9,1101.5 1335.0,1101.5 1338.2,1101.5 1341.3,1101.5 1344.5,1101.5 1346.6,1101.5 1349.8,1101.5 1352.9,1101.5 1356.1,1101.4 1358.2,1101.4 1361.4,1101.4 1364.5,1101.4 1367.7,1101.4 1369.8,1101.4 1373.0,1101.4 1376.2,1101.4 1379.3,1101.4 1381.4,1101.4 1384.6,1101.3 1387.8,1101.3 1389.9,1101.3 1393.0,1101.3 1396.2,1101.3 1399.4,1101.3 1401.5,1101.3 1404.6,1101.3 1407.8,1101.3 1411.0,1101.2 1413.1,1101.2 1416.3,1101.2 1419.4,1101.2 1422.6,1101.2 1424.7,1101.2 1427.9,1101.2 1431.0,1101.2 1433.1,1101.2 1436.3,1101.2 1439.5,1101.2 1442.6,1101.1 1444.7,1101.1 1447.9,1101.1 1451.1,1101.1 1454.2,1101.1 1456.4,1101.1 1459.5,1101.1 1462.7,1101.1 1465.9,1101.1 1468.0,1101.1 1471.1,1101.0 1474.3,1101.0 1477.5,1101.0 1479.6,1101.0 1482.7,1101.0 1485.9,1101.0 1488.0,1101.0 1491.2,1101.0 1494.3,1101.0 1497.5,1101.0 1499.6,1101.0 1502.8,1100.9 1506.0,1100.9 1509.1,1100.9 1511.2,1100.9 1514.4,1100.9 1517.6,1100.9 1520.7,1100.9 1522.8,1100.9 1526.0,1100.9 1529.2,1100.9 1531.3,1100.9 1534.4,1100.9 1537.6,1100.8 1540.8,1100.8 1542.9,1100.8 1546.1,1100.8 1549.2,1100.8 1552.4,1100.8 1554.5,1100.8 1557.7,1100.8 1560.8,1100.8 1564.0,1100.8 1566.1,1100.8 1569.3,1100.8 1572.4,1100.7 1575.6,1100.7" fill="none" stroke="#000" stroke-width="3.8" stroke-linejoin="round" stroke-linecap="round"/>
<polyline points="943.5,1109.6 945.6,1109.6 948.8,1109.6 951.9,1109.6 954.1,1109.6 957.2,1109.6 960.4,1109.6 963.5,1109.6 965.7,1109.6 968.8,1109.6 972.0,1109.6 975.2,1109.6 977.3,1109.5 980.4,1109.4 983.6,1109.3 986.8,1109.2 988.9,1109.1 992.0,1108.9 995.2,1108.7 997.3,1108.6 1000.5,1108.4 1003.6,1108.3 1006.8,1108.1 1008.9,1108.1 1012.1,1108.0 1015.3,1107.9 1018.4,1107.8 1020.5,1107.7 1023.7,1107.6 1026.9,1107.6 1030.0,1107.5 1032.1,1107.4 1035.3,1107.3 1038.5,1107.3 1040.6,1107.2 1043.7,1107.2 1046.9,1107.1 1050.1,1107.0 1052.2,1107.0 1055.4,1106.9 1058.5,1106.9 1061.7,1106.9 1063.8,1106.8 1067.0,1106.8 1070.1,1106.8 1073.3,1106.8 1075.4,1106.7 1078.6,1106.7 1081.7,1106.7 1084.9,1106.7 1087.0,1106.7 1090.2,1106.7 1093.3,1106.7 1095.5,1106.6 1098.6,1106.6 1101.8,1106.6 1105.0,1106.6 1107.1,1106.6 1110.2,1106.6 1113.4,1106.6 1116.6,1106.6 1118.7,1106.6 1121.8,1106.6 1125.0,1106.6 1128.2,1106.6 1130.3,1106.6 1133.4,1106.6 1136.6,1106.6 1138.7,1106.6 1141.9,1106.6 1145.1,1106.6 1148.2,1106.6 1150.3,1106.6 1153.5,1106.6 1156.7,1106.6 1159.8,1106.6 1161.9,1106.6 1165.1,1106.6 1168.3,1106.6 1171.4,1106.6 1173.5,1106.6 1176.7,1106.6 1179.9,1106.6 1183.0,1106.6 1185.2,1106.6 1188.3,1106.6 1191.5,1106.6 1193.6,1106.6 1196.8,1106.6 1199.9,1106.6 1203.1,1106.6 1205.2,1106.6 1208.4,1106.6 1211.5,1106.6 1214.7,1106.6 1216.8,1106.6 1220.0,1106.6 1223.1,1106.6 1226.3,1106.6 1228.4,1106.6 1231.6,1106.6 1234.8,1106.6 1236.9,1106.6 1240.0,1106.6 1243.2,1106.6 1246.4,1106.6 1248.5,1106.6 1251.6,1106.5 1254.8,1106.5 1258.0,1106.5 1260.1,1106.5 1263.2,1106.5 1266.4,1106.5 1269.6,1106.5 1271.7,1106.5 1274.9,1106.5 1278.0,1106.5 1281.2,1106.5 1283.3,1106.5 1286.5,1106.5 1289.6,1106.5 1291.7,1106.5 1294.9,1106.5 1298.1,1106.5 1301.2,1106.5 1303.3,1106.5 1306.5,1106.5 1309.7,1106.5 1312.8,1106.4 1315.0,1106.4 1318.1,1106.4 1321.3,1106.4 1324.4,1106.4 1326.6,1106.4 1329.7,1106.4 1332.9,1106.4 1335.0,1106.4 1338.2,1106.4 1341.3,1106.4 1344.5,1106.4 1346.6,1106.4 1349.8,1106.4 1352.9,1106.4 1356.1,1106.4 1358.2,1106.3 1361.4,1106.3 1364.5,1106.3 1367.7,1106.3 1369.8,1106.3 1373.0,1106.3 1376.2,1106.3 1379.3,1106.3 1381.4,1106.3 1384.6,1106.3 1387.8,1106.3 1389.9,1106.3 1393.0,1106.3 1396.2,1106.3 1399.4,1106.3 1401.5,1106.3 1404.6,1106.3 1407.8,1106.2 1411.0,1106.2 1413.1,1106.2 1416.3,1106.2 1419.4,1106.2 1422.6,1106.2 1424.7,1106.2 1427.9,1106.2 1431.0,1106.2 1433.1,1106.2 1436.3,1106.2 1439.5,1106.2 1442.6,1106.2 1444.7,1106.2 1447.9,1106.2 1451.1,1106.2 1454.2,1106.1 1456.4,1106.1 1459.5,1106.1 1462.7,1106.1 1465.9,1106.1 1468.0,1106.1 1471.1,1106.1 1474.3,1106.1 1477.5,1106.1 1479.6,1106.1 1482.7,1106.1 1485.9,1106.1 1488.0,1106.1 1491.2,1106.1 1494.3,1106.1 1497.5,1106.0 1499.6,1106.0 1502.8,1106.0 1506.0,1106.0 1509.1,1106.0 1511.2,1106.0 1514.4,1106.0 1517.6,1106.0 1520.7,1106.0 1522.8,1106.0 1526.0,1106.0 1529.2,1106.0 1531.3,1106.0 1534.4,1106.0 1537.6,1105.9 1540.8,1105.9 1542.9,1105.9 1546.1,1105.9 1549.2,1105.9 1552.4,1105.9 1554.5,1105.9 1557.7,1105.9 1560.8,1105.9 1564.0,1105.9 1566.1,1105.9 1569.3,1105.9 1572.4,1105.9 1575.6,1105.8" fill="none" stroke="#000" stroke-width="3.8" stroke-linejoin="round" stroke-linecap="round"/>
</g>
<line x1="1069.9" y1="1112.6" x2="1069.9" y2="1098.1" stroke="#000" stroke-width="3.8" stroke-linecap="round"/>
<line x1="1069.9" y1="662.0" x2="1069.9" y2="676.5" stroke="#000" stroke-width="3.8" stroke-linecap="round"/>
<line x1="1196.3" y1="1112.6" x2="1196.3" y2="1098.1" stroke="#000" stroke-width="3.8" stroke-linecap="round"/>
<line x1="1196.3" y1="662.0" x2="1196.3" y2="676.5" stroke="#000" stroke-width="3.8" stroke-linecap="round"/>
<line x1="1322.8" y1="1112.6" x2="1322.8" y2="1098.1" stroke="#000" stroke-width="3.8" stroke-linecap="round"/>
<line x1="1322.8" y1="662.0" x2="1322.8" y2="676.5" stroke="#000" stroke-width="3.8" stroke-linecap="round"/>
<line x1="1449.2" y1="1112.6" x2="1449.2" y2="1098.1" stroke="#000" stroke-width="3.8" stroke-linecap="round"/>
<line x1="1449.2" y1="662.0" x2="1449.2" y2="676.5" stroke="#000" stroke-width="3.8" stroke-linecap="round"/>
<line x1="943.5" y1="962.4" x2="958.0" y2="962.4" stroke="#000" stroke-width="3.8" stroke-linecap="round"/>
<line x1="1575.6" y1="962.4" x2="1561.1" y2="962.4" stroke="#000" stroke-width="3.8" stroke-linecap="round"/>
<line x1="943.5" y1="812.2" x2="958.0" y2="812.2" stroke="#000" stroke-width="3.8" stroke-linecap="round"/>
<line x1="1575.6" y1="812.2" x2="1561.1" y2="812.2" stroke="#000" stroke-width="3.8" stroke-linecap="round"/>
<rect x="943.5" y="662.0" width="632.1" height="450.6" fill="none" stroke="#000" stroke-width="4.3"/>
<text x="911.94" y="1122.80" font-size="36" textLength="21.67" lengthAdjust="spacingAndGlyphs">0</text>
<text x="871.62" y="972.60" font-size="36" textLength="61.93" lengthAdjust="spacingAndGlyphs">100</text>
<text x="870.10" y="822.40" font-size="36" textLength="63.48" lengthAdjust="spacingAndGlyphs">200</text>
<text x="870.68" y="672.20" font-size="36" textLength="62.88" lengthAdjust="spacingAndGlyphs">300</text>
<text x="932.86" y="1150.20" font-size="36" textLength="21.33" lengthAdjust="spacingAndGlyphs">0</text>
<text x="1058.60" y="1150.20" font-size="36" textLength="22.49" lengthAdjust="spacingAndGlyphs">2</text>
<text x="1186.31" y="1150.20" font-size="36" textLength="20.28" lengthAdjust="spacingAndGlyphs">4</text>
<text x="1311.46" y="1150.20" font-size="36" textLength="22.25" lengthAdjust="spacingAndGlyphs">6</text>
<text x="1438.31" y="1150.20" font-size="36" textLength="21.78" lengthAdjust="spacingAndGlyphs">8</text>
<text x="1553.18" y="1150.20" font-size="36" textLength="43.33" lengthAdjust="spacingAndGlyphs">10</text>
<text x="947.55" y="694.20" font-size="32.5" textLength="39.63" lengthAdjust="spacingAndGlyphs">(d)</text>
<text x="1191.48" y="1195.20" font-size="44.5" textLength="27.59" lengthAdjust="spacingAndGlyphs" font-style="italic">V</text>
<text x="1218.57" y="1202.20" font-size="29.5" textLength="43.96" lengthAdjust="spacingAndGlyphs">DS</text>
<text x="1273.53" y="1195.20" font-size="44.5" textLength="57.14" lengthAdjust="spacingAndGlyphs">[V]</text>
<text transform="translate(858.2,1007.5) rotate(-90)" font-size="44.5"><tspan font-style="italic">I</tspan><tspan font-size="29.5" dy="6.5">DS</tspan><tspan dy="-6.5"> [mA/mm]</tspan></text>
<text x="963.29" y="782.70" font-size="36.5" textLength="22.84" lengthAdjust="spacingAndGlyphs" font-style="italic">V</text>
<text x="987.51" y="790.70" font-size="25.3" textLength="37.27" lengthAdjust="spacingAndGlyphs">GS</text>
<text x="1035.87" y="782.70" font-size="36.5" textLength="233.01" lengthAdjust="spacingAndGlyphs">= -5.0 ~ 3.0 V</text>
<text x="963.29" y="821.20" font-size="36.5" textLength="22.84" lengthAdjust="spacingAndGlyphs" font-style="italic">V</text>
<text x="987.51" y="828.30" font-size="25.3" textLength="37.27" lengthAdjust="spacingAndGlyphs">GS</text>
<text x="1023.94" y="828.30" font-size="21" textLength="59.29" lengthAdjust="spacingAndGlyphs">.step</text>
<text x="1093.97" y="821.20" font-size="36.5" textLength="122.70" lengthAdjust="spacingAndGlyphs">= 1.0 V</text>
</g></svg>
</body></html>
